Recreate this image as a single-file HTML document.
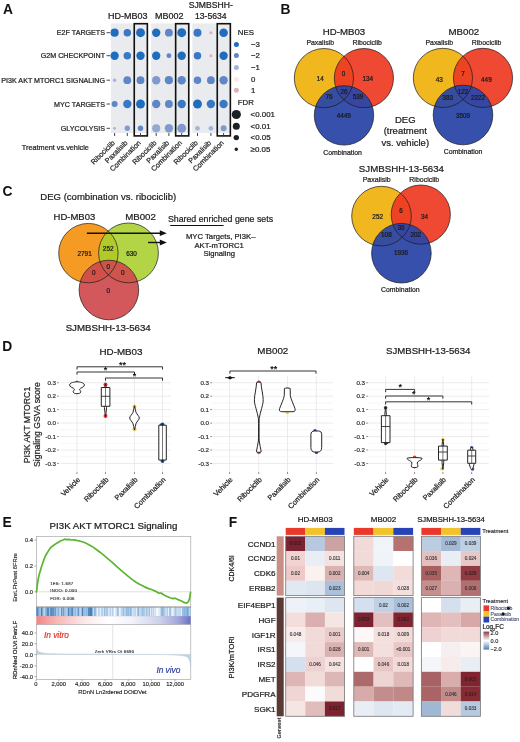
<!DOCTYPE html>
<html lang="en">
<head>
<meta charset="utf-8">
<title>Figure</title>
<style>
html,body{margin:0;padding:0;background:#fff;}
body{width:520px;height:742px;overflow:hidden;}
svg{display:block;font-family:"Liberation Sans",sans-serif;}
svg text{white-space:pre;}
</style>
</head>
<body>
<svg width="520" height="742" viewBox="0 0 520 742">
<rect x="0" y="0" width="520" height="742" fill="#ffffff"/>
<g id="panelA">
<text x="2.90" y="14.10" font-size="13.8" font-weight="bold" fill="#111">A</text>
<rect x="111.0" y="23.4" width="37.30000000000001" height="109.6" fill="#e9ebee"/>
<rect x="151.0" y="23.4" width="38.599999999999994" height="109.6" fill="#e9ebee"/>
<rect x="192.3" y="23.4" width="38.69999999999999" height="109.6" fill="#e9ebee"/>
<text x="127.80" y="18.60" font-size="9" text-anchor="middle" fill="#1a1a1a" stroke="#1a1a1a" stroke-width="0.22">HD-MB03</text>
<text x="169.30" y="18.60" font-size="9" text-anchor="middle" fill="#1a1a1a" stroke="#1a1a1a" stroke-width="0.22">MB002</text>
<text x="210.80" y="8.20" font-size="8.6" text-anchor="middle" fill="#1a1a1a" stroke="#1a1a1a" stroke-width="0.22">SJMBSHH-</text>
<text x="210.80" y="18.60" font-size="8.6" text-anchor="middle" fill="#1a1a1a" stroke="#1a1a1a" stroke-width="0.22">13-5634</text>
<text x="105.00" y="35.20" font-size="7.15" text-anchor="end" fill="#222" stroke="#222" stroke-width="0.22">E2F TARGETS</text>
<line x1="106.6" y1="32.7" x2="110" y2="32.7" stroke="#333" stroke-width="0.9"/>
<text x="105.00" y="58.20" font-size="7.15" text-anchor="end" fill="#222" stroke="#222" stroke-width="0.22">G2M CHECKPOINT</text>
<line x1="106.6" y1="55.7" x2="110" y2="55.7" stroke="#333" stroke-width="0.9"/>
<text x="105.00" y="82.70" font-size="7.15" text-anchor="end" fill="#222" stroke="#222" stroke-width="0.22">PI3K AKT MTORC1 SIGNALING</text>
<line x1="106.6" y1="80.2" x2="110" y2="80.2" stroke="#333" stroke-width="0.9"/>
<text x="105.00" y="106.50" font-size="7.15" text-anchor="end" fill="#222" stroke="#222" stroke-width="0.22">MYC TARGETS</text>
<line x1="106.6" y1="104.0" x2="110" y2="104.0" stroke="#333" stroke-width="0.9"/>
<text x="105.00" y="130.80" font-size="7.15" text-anchor="end" fill="#222" stroke="#222" stroke-width="0.22">GLYCOLYSIS</text>
<line x1="106.6" y1="128.3" x2="110" y2="128.3" stroke="#333" stroke-width="0.9"/>
<circle cx="114.6" cy="32.7" r="4.09" fill="#1f6dbd"/>
<circle cx="127.3" cy="32.7" r="3.72" fill="#3a78c4"/>
<circle cx="140.5" cy="32.7" r="4.46" fill="#1f6dbd"/>
<circle cx="156.2" cy="32.7" r="4.19" fill="#1f6dbd"/>
<circle cx="168.9" cy="32.7" r="3.91" fill="#5f86c6"/>
<circle cx="181.7" cy="32.7" r="4.46" fill="#1f6dbd"/>
<circle cx="197.5" cy="32.7" r="4.00" fill="#3a78c4"/>
<circle cx="210.9" cy="32.7" r="1.50" fill="#d9b3b8"/>
<circle cx="223.6" cy="32.7" r="4.28" fill="#1f6dbd"/>
<circle cx="114.6" cy="55.7" r="4.19" fill="#1f6dbd"/>
<circle cx="127.3" cy="55.7" r="3.72" fill="#3a78c4"/>
<circle cx="140.5" cy="55.7" r="4.19" fill="#1f6dbd"/>
<circle cx="156.2" cy="55.7" r="4.19" fill="#1f6dbd"/>
<circle cx="168.9" cy="55.7" r="2.40" fill="#5f86c6"/>
<circle cx="181.7" cy="55.7" r="4.19" fill="#1f6dbd"/>
<circle cx="197.5" cy="55.7" r="3.72" fill="#3a78c4"/>
<circle cx="210.9" cy="55.7" r="1.50" fill="#d9b3b8"/>
<circle cx="223.6" cy="55.7" r="4.19" fill="#1f6dbd"/>
<circle cx="114.6" cy="80.2" r="1.70" fill="#a3b5d8"/>
<circle cx="127.3" cy="80.2" r="3.91" fill="#5f86c6"/>
<circle cx="140.5" cy="80.2" r="3.91" fill="#5f86c6"/>
<circle cx="156.2" cy="80.2" r="4.19" fill="#7f9bcd"/>
<circle cx="168.9" cy="80.2" r="4.09" fill="#5f86c6"/>
<circle cx="181.7" cy="80.2" r="4.19" fill="#5f86c6"/>
<circle cx="197.5" cy="80.2" r="3.72" fill="#5f86c6"/>
<circle cx="210.9" cy="80.2" r="3.91" fill="#5f86c6"/>
<circle cx="223.6" cy="80.2" r="4.19" fill="#5f86c6"/>
<circle cx="114.6" cy="104.0" r="3.00" fill="#5f86c6"/>
<circle cx="127.3" cy="104.0" r="4.19" fill="#3a78c4"/>
<circle cx="140.5" cy="104.0" r="4.46" fill="#1f6dbd"/>
<circle cx="156.2" cy="104.0" r="4.19" fill="#5f86c6"/>
<circle cx="168.9" cy="104.0" r="3.91" fill="#5f86c6"/>
<circle cx="181.7" cy="104.0" r="4.19" fill="#3a78c4"/>
<circle cx="197.5" cy="104.0" r="4.46" fill="#1f6dbd"/>
<circle cx="210.9" cy="104.0" r="4.19" fill="#3a78c4"/>
<circle cx="223.6" cy="104.0" r="4.19" fill="#3a78c4"/>
<circle cx="114.6" cy="128.3" r="1.40" fill="#a3b5d8"/>
<circle cx="127.3" cy="128.3" r="2.70" fill="#7f9bcd"/>
<circle cx="140.5" cy="128.3" r="2.70" fill="#5f86c6"/>
<circle cx="156.2" cy="128.3" r="4.09" fill="#93a9d2"/>
<circle cx="168.9" cy="128.3" r="4.19" fill="#7f9bcd"/>
<circle cx="181.7" cy="128.3" r="4.46" fill="#7f9bcd"/>
<circle cx="197.5" cy="128.3" r="2.40" fill="#a3b5d8"/>
<circle cx="210.9" cy="128.3" r="2.40" fill="#a3b5d8"/>
<circle cx="223.6" cy="128.3" r="3.00" fill="#7f9bcd"/>
<rect x="134.25" y="23.7" width="13.1" height="112.2" fill="none" stroke="#111" stroke-width="1.6"/>
<rect x="175.65" y="23.7" width="13.1" height="112.2" fill="none" stroke="#111" stroke-width="1.6"/>
<rect x="217.25" y="23.7" width="13.1" height="112.2" fill="none" stroke="#111" stroke-width="1.6"/>
<line x1="114.6" y1="133" x2="114.6" y2="136" stroke="#333" stroke-width="0.9"/>
<text x="115.40" y="143.30" font-size="7.2" text-anchor="end" fill="#222" transform="rotate(-45 115.40 143.30)" stroke="#222" stroke-width="0.22">Ribociclib</text>
<line x1="127.3" y1="133" x2="127.3" y2="136" stroke="#333" stroke-width="0.9"/>
<text x="128.10" y="143.30" font-size="7.2" text-anchor="end" fill="#222" transform="rotate(-45 128.10 143.30)" stroke="#222" stroke-width="0.22">Paxalisib</text>
<line x1="140.5" y1="133" x2="140.5" y2="136" stroke="#333" stroke-width="0.9"/>
<text x="141.30" y="143.30" font-size="7.2" text-anchor="end" fill="#222" transform="rotate(-45 141.30 143.30)" stroke="#222" stroke-width="0.22">Combination</text>
<line x1="156.2" y1="133" x2="156.2" y2="136" stroke="#333" stroke-width="0.9"/>
<text x="157.00" y="143.30" font-size="7.2" text-anchor="end" fill="#222" transform="rotate(-45 157.00 143.30)" stroke="#222" stroke-width="0.22">Ribociclib</text>
<line x1="168.9" y1="133" x2="168.9" y2="136" stroke="#333" stroke-width="0.9"/>
<text x="169.70" y="143.30" font-size="7.2" text-anchor="end" fill="#222" transform="rotate(-45 169.70 143.30)" stroke="#222" stroke-width="0.22">Paxalisib</text>
<line x1="181.7" y1="133" x2="181.7" y2="136" stroke="#333" stroke-width="0.9"/>
<text x="182.50" y="143.30" font-size="7.2" text-anchor="end" fill="#222" transform="rotate(-45 182.50 143.30)" stroke="#222" stroke-width="0.22">Combination</text>
<line x1="197.5" y1="133" x2="197.5" y2="136" stroke="#333" stroke-width="0.9"/>
<text x="198.30" y="143.30" font-size="7.2" text-anchor="end" fill="#222" transform="rotate(-45 198.30 143.30)" stroke="#222" stroke-width="0.22">Ribociclib</text>
<line x1="210.9" y1="133" x2="210.9" y2="136" stroke="#333" stroke-width="0.9"/>
<text x="211.70" y="143.30" font-size="7.2" text-anchor="end" fill="#222" transform="rotate(-45 211.70 143.30)" stroke="#222" stroke-width="0.22">Paxalisib</text>
<line x1="223.6" y1="133" x2="223.6" y2="136" stroke="#333" stroke-width="0.9"/>
<text x="224.40" y="143.30" font-size="7.2" text-anchor="end" fill="#222" transform="rotate(-45 224.40 143.30)" stroke="#222" stroke-width="0.22">Combination</text>
<text x="21.80" y="150.30" font-size="7.3" fill="#222" stroke="#222" stroke-width="0.22">Treatment vs.vehicle</text>
<text x="237.80" y="35.40" font-size="7.8" fill="#222" stroke="#222" stroke-width="0.22">NES</text>
<circle cx="236.4" cy="44.5" r="2.5" fill="#1f6dbd"/>
<text x="251.00" y="47.30" font-size="7.8" fill="#222" stroke="#222" stroke-width="0.22">−3</text>
<circle cx="236.4" cy="55.6" r="2.5" fill="#5f86c6"/>
<text x="251.00" y="58.40" font-size="7.8" fill="#222" stroke="#222" stroke-width="0.22">−2</text>
<circle cx="236.4" cy="67.4" r="2.5" fill="#a3b5d8"/>
<text x="251.00" y="70.20" font-size="7.8" fill="#222" stroke="#222" stroke-width="0.22">−1</text>
<circle cx="236.4" cy="79.2" r="2.5" fill="#f6e9ec"/>
<text x="251.00" y="82.00" font-size="7.8" fill="#222" stroke="#222" stroke-width="0.22">0</text>
<circle cx="236.4" cy="90.2" r="2.5" fill="#d9b3b8"/>
<text x="251.00" y="93.00" font-size="7.8" fill="#222" stroke="#222" stroke-width="0.22">1</text>
<text x="237.80" y="105.40" font-size="7.8" fill="#222" stroke="#222" stroke-width="0.22">FDR</text>
<circle cx="236.3" cy="114.5" r="4.6" fill="#1c2126"/>
<text x="250.60" y="117.30" font-size="7.9" fill="#222" stroke="#222" stroke-width="0.22">&lt;0.001</text>
<circle cx="236.3" cy="126.3" r="3.5" fill="#1c2126"/>
<text x="250.60" y="129.10" font-size="7.9" fill="#222" stroke="#222" stroke-width="0.22">&lt;0.01</text>
<circle cx="236.3" cy="137.6" r="2.7" fill="#1c2126"/>
<text x="250.60" y="140.40" font-size="7.9" fill="#222" stroke="#222" stroke-width="0.22">&lt;0.05</text>
<circle cx="236.3" cy="149.3" r="1.7" fill="#1c2126"/>
<text x="250.60" y="152.10" font-size="7.9" fill="#222" stroke="#222" stroke-width="0.22">≥0.05</text>
</g>
<g id="panelB">
<text x="280.40" y="14.10" font-size="13.8" font-weight="bold" fill="#111">B</text>
<text x="344.00" y="35.00" font-size="9.65" text-anchor="middle" fill="#1a1a1a" stroke="#1a1a1a" stroke-width="0.22">HD-MB03</text>
<text x="320.20" y="44.50" font-size="6.9" text-anchor="middle" fill="#222" stroke="#222" stroke-width="0.22">Paxalisib</text>
<text x="367.20" y="44.50" font-size="6.9" text-anchor="middle" fill="#222" stroke="#222" stroke-width="0.22">Ribociclib</text>
<circle cx="323.9" cy="78.1" r="29.6" fill="#f0b71f"/>
<circle cx="363.9" cy="78.1" r="29.6" fill="#ee3a24" fill-opacity="0.93"/>
<circle cx="344.0" cy="115.4" r="29.7" fill="#2b47a8" fill-opacity="0.95"/>
<circle cx="323.9" cy="78.1" r="29.6" fill="none" stroke="#1a1a1a" stroke-width="0.7"/>
<circle cx="363.9" cy="78.1" r="29.6" fill="none" stroke="#1a1a1a" stroke-width="0.7"/>
<circle cx="344.0" cy="115.4" r="29.7" fill="none" stroke="#1a1a1a" stroke-width="0.7"/>
<text x="320.20" y="81.00" font-size="6.4" text-anchor="middle" fill="#1a1a1a" stroke="#1a1a1a" stroke-width="0.22">14</text>
<text x="343.60" y="75.80" font-size="6.4" text-anchor="middle" fill="#1a1a1a" stroke="#1a1a1a" stroke-width="0.22">0</text>
<text x="367.80" y="81.00" font-size="6.4" text-anchor="middle" fill="#1a1a1a" stroke="#1a1a1a" stroke-width="0.22">134</text>
<text x="329.00" y="99.20" font-size="6.4" text-anchor="middle" fill="#1a1a1a" stroke="#1a1a1a" stroke-width="0.22">76</text>
<text x="344.00" y="93.50" font-size="6.4" text-anchor="middle" fill="#1a1a1a" stroke="#1a1a1a" stroke-width="0.22">26</text>
<text x="358.00" y="99.20" font-size="6.4" text-anchor="middle" fill="#1a1a1a" stroke="#1a1a1a" stroke-width="0.22">539</text>
<text x="343.80" y="117.50" font-size="6.4" text-anchor="middle" fill="#1a1a1a" stroke="#1a1a1a" stroke-width="0.22">4449</text>
<text x="342.50" y="154.50" font-size="6.9" text-anchor="middle" fill="#222" stroke="#222" stroke-width="0.22">Combination</text>
<text x="405.30" y="123.20" font-size="9.5" text-anchor="middle" fill="#1a1a1a" stroke="#1a1a1a" stroke-width="0.22">DEG</text>
<text x="405.30" y="134.40" font-size="9.5" text-anchor="middle" fill="#1a1a1a" stroke="#1a1a1a" stroke-width="0.22">(treatment</text>
<text x="405.30" y="145.80" font-size="9.5" text-anchor="middle" fill="#1a1a1a" stroke="#1a1a1a" stroke-width="0.22">vs. vehicle)</text>
<text x="463.90" y="35.00" font-size="9.7" text-anchor="middle" fill="#1a1a1a" stroke="#1a1a1a" stroke-width="0.22">MB002</text>
<text x="439.30" y="44.50" font-size="6.9" text-anchor="middle" fill="#222" stroke="#222" stroke-width="0.22">Paxalisib</text>
<text x="486.60" y="44.50" font-size="6.9" text-anchor="middle" fill="#222" stroke="#222" stroke-width="0.22">Ribociclib</text>
<circle cx="442.9" cy="77.9" r="29.6" fill="#f0b71f"/>
<circle cx="483.0" cy="77.9" r="29.6" fill="#ee3a24" fill-opacity="0.93"/>
<circle cx="463.0" cy="115.0" r="29.8" fill="#2b47a8" fill-opacity="0.95"/>
<circle cx="442.9" cy="77.9" r="29.6" fill="none" stroke="#1a1a1a" stroke-width="0.7"/>
<circle cx="483.0" cy="77.9" r="29.6" fill="none" stroke="#1a1a1a" stroke-width="0.7"/>
<circle cx="463.0" cy="115.0" r="29.8" fill="none" stroke="#1a1a1a" stroke-width="0.7"/>
<text x="439.30" y="81.50" font-size="6.4" text-anchor="middle" fill="#1a1a1a" stroke="#1a1a1a" stroke-width="0.22">43</text>
<text x="463.00" y="75.90" font-size="6.4" text-anchor="middle" fill="#1a1a1a" stroke="#1a1a1a" stroke-width="0.22">7</text>
<text x="486.40" y="81.50" font-size="6.4" text-anchor="middle" fill="#1a1a1a" stroke="#1a1a1a" stroke-width="0.22">449</text>
<text x="447.70" y="99.80" font-size="6.4" text-anchor="middle" fill="#1a1a1a" stroke="#1a1a1a" stroke-width="0.22">383</text>
<text x="463.00" y="93.60" font-size="6.4" text-anchor="middle" fill="#1a1a1a" stroke="#1a1a1a" stroke-width="0.22">122</text>
<text x="478.00" y="99.80" font-size="6.4" text-anchor="middle" fill="#1a1a1a" stroke="#1a1a1a" stroke-width="0.22">2222</text>
<text x="463.00" y="117.50" font-size="6.4" text-anchor="middle" fill="#1a1a1a" stroke="#1a1a1a" stroke-width="0.22">3509</text>
<text x="463.00" y="154.10" font-size="6.9" text-anchor="middle" fill="#222" stroke="#222" stroke-width="0.22">Combination</text>
<text x="401.40" y="172.40" font-size="9.7" text-anchor="middle" fill="#1a1a1a" stroke="#1a1a1a" stroke-width="0.22">SJMBSHH-13-5634</text>
<text x="376.70" y="182.00" font-size="7.0" text-anchor="middle" fill="#222" stroke="#222" stroke-width="0.22">Paxalisib</text>
<text x="424.30" y="182.00" font-size="7.0" text-anchor="middle" fill="#222" stroke="#222" stroke-width="0.22">Ribociclib</text>
<circle cx="381.5" cy="216.1" r="29.8" fill="#f0b71f"/>
<circle cx="420.8" cy="214.6" r="29.6" fill="#ee3a24" fill-opacity="0.93"/>
<circle cx="401.4" cy="253.2" r="29.8" fill="#2b47a8" fill-opacity="0.95"/>
<circle cx="381.5" cy="216.1" r="29.8" fill="none" stroke="#1a1a1a" stroke-width="0.7"/>
<circle cx="420.8" cy="214.6" r="29.6" fill="none" stroke="#1a1a1a" stroke-width="0.7"/>
<circle cx="401.4" cy="253.2" r="29.8" fill="none" stroke="#1a1a1a" stroke-width="0.7"/>
<text x="377.70" y="218.70" font-size="6.4" text-anchor="middle" fill="#1a1a1a" stroke="#1a1a1a" stroke-width="0.22">252</text>
<text x="401.00" y="213.30" font-size="6.4" text-anchor="middle" fill="#1a1a1a" stroke="#1a1a1a" stroke-width="0.22">6</text>
<text x="424.60" y="218.70" font-size="6.4" text-anchor="middle" fill="#1a1a1a" stroke="#1a1a1a" stroke-width="0.22">34</text>
<text x="386.40" y="237.00" font-size="6.4" text-anchor="middle" fill="#1a1a1a" stroke="#1a1a1a" stroke-width="0.22">108</text>
<text x="401.00" y="230.40" font-size="6.4" text-anchor="middle" fill="#1a1a1a" stroke="#1a1a1a" stroke-width="0.22">36</text>
<text x="415.80" y="237.00" font-size="6.4" text-anchor="middle" fill="#1a1a1a" stroke="#1a1a1a" stroke-width="0.22">202</text>
<text x="401.00" y="254.70" font-size="6.4" text-anchor="middle" fill="#1a1a1a" stroke="#1a1a1a" stroke-width="0.22">1936</text>
<text x="400.30" y="292.40" font-size="6.9" text-anchor="middle" fill="#222" stroke="#222" stroke-width="0.22">Combination</text>
</g>
<g id="panelC">
<text x="2.50" y="195.90" font-size="13.8" font-weight="bold" fill="#111">C</text>
<text x="40.30" y="200.40" font-size="9.55" fill="#222" stroke="#222" stroke-width="0.22">DEG (combination vs. ribociclib)</text>
<text x="74.40" y="219.60" font-size="9.5" text-anchor="middle" fill="#1a1a1a" stroke="#1a1a1a" stroke-width="0.22">HD-MB03</text>
<text x="140.50" y="219.60" font-size="9.7" text-anchor="middle" fill="#1a1a1a" stroke="#1a1a1a" stroke-width="0.22">MB002</text>
<circle cx="88.4" cy="253.1" r="29.7" fill="#f59a23"/>
<circle cx="128.5" cy="252.9" r="29.9" fill="#a9cf2b" fill-opacity="0.88"/>
<circle cx="108.9" cy="290.0" r="29.8" fill="#cf4a4d" fill-opacity="0.92"/>
<circle cx="88.4" cy="253.1" r="29.7" fill="none" stroke="#1a1a1a" stroke-width="0.7"/>
<circle cx="128.5" cy="252.9" r="29.9" fill="none" stroke="#1a1a1a" stroke-width="0.7"/>
<circle cx="108.9" cy="290.0" r="29.8" fill="none" stroke="#1a1a1a" stroke-width="0.7"/>
<text x="84.60" y="256.20" font-size="6.4" text-anchor="middle" fill="#1a1a1a" stroke="#1a1a1a" stroke-width="0.22">2791</text>
<text x="108.20" y="251.20" font-size="6.4" text-anchor="middle" fill="#1a1a1a" stroke="#1a1a1a" stroke-width="0.22">252</text>
<text x="131.50" y="256.20" font-size="6.4" text-anchor="middle" fill="#1a1a1a" stroke="#1a1a1a" stroke-width="0.22">630</text>
<text x="93.90" y="274.90" font-size="6.4" text-anchor="middle" fill="#1a1a1a" stroke="#1a1a1a" stroke-width="0.22">0</text>
<text x="108.20" y="269.20" font-size="6.4" text-anchor="middle" fill="#1a1a1a" stroke="#1a1a1a" stroke-width="0.22">0</text>
<text x="122.70" y="274.90" font-size="6.4" text-anchor="middle" fill="#1a1a1a" stroke="#1a1a1a" stroke-width="0.22">0</text>
<text x="108.20" y="293.20" font-size="6.4" text-anchor="middle" fill="#1a1a1a" stroke="#1a1a1a" stroke-width="0.22">0</text>
<text x="108.20" y="331.20" font-size="9.7" text-anchor="middle" fill="#1a1a1a" stroke="#1a1a1a" stroke-width="0.22">SJMBSHH-13-5634</text>
<line x1="86.9" y1="233.2" x2="161.5" y2="233.2" stroke="#111" stroke-width="1.4"/>
<path d="M166.8 233.2 L159.8 230.3 L159.8 236.1 Z" fill="#111"/>
<line x1="148.1" y1="242.5" x2="161.5" y2="242.5" stroke="#111" stroke-width="1.4"/>
<path d="M166.8 242.5 L159.8 239.6 L159.8 245.4 Z" fill="#111"/>
<text x="167.90" y="221.90" font-size="8.8" fill="#222" stroke="#222" stroke-width="0.22">Shared enriched gene sets</text>
<line x1="170.2" y1="225.5" x2="223.6" y2="225.5" stroke="#111" stroke-width="1.2"/>
<text x="220.70" y="239.30" font-size="7.7" text-anchor="middle" fill="#222" stroke="#222" stroke-width="0.22">MYC Targets, PI3K–</text>
<text x="219.20" y="247.50" font-size="7.7" text-anchor="middle" fill="#222" stroke="#222" stroke-width="0.22">AKT-mTORC1</text>
<text x="219.20" y="256.20" font-size="7.7" text-anchor="middle" fill="#222" stroke="#222" stroke-width="0.22">Signaling</text>
</g>
<g id="panelD">
<text x="2.20" y="350.60" font-size="13.8" font-weight="bold" fill="#111">D</text>
<text x="30.30" y="425.00" font-size="8.7" text-anchor="middle" fill="#222" transform="rotate(-90 30.30 425.00)" stroke="#222" stroke-width="0.22">PI3K AKT MTORC1</text>
<text x="39.50" y="424.50" font-size="8.7" text-anchor="middle" fill="#222" transform="rotate(-90 39.50 424.50)" stroke="#222" stroke-width="0.22">Signaling GSVA score</text>
<text x="121.00" y="355.40" font-size="9.8" text-anchor="middle" fill="#1a1a1a" stroke="#1a1a1a" stroke-width="0.22">HD-MB03</text>
<line x1="60.0" y1="463.48" x2="171.0" y2="463.48" stroke="#e4e4e4" stroke-width="0.7"/>
<line x1="60.0" y1="456.75" x2="171.0" y2="456.75" stroke="#efefef" stroke-width="0.5"/>
<line x1="60.0" y1="450.02" x2="171.0" y2="450.02" stroke="#e4e4e4" stroke-width="0.7"/>
<line x1="60.0" y1="443.29" x2="171.0" y2="443.29" stroke="#efefef" stroke-width="0.5"/>
<line x1="60.0" y1="436.56" x2="171.0" y2="436.56" stroke="#e4e4e4" stroke-width="0.7"/>
<line x1="60.0" y1="429.83" x2="171.0" y2="429.83" stroke="#efefef" stroke-width="0.5"/>
<line x1="60.0" y1="423.10" x2="171.0" y2="423.10" stroke="#e4e4e4" stroke-width="0.7"/>
<line x1="60.0" y1="416.37" x2="171.0" y2="416.37" stroke="#efefef" stroke-width="0.5"/>
<line x1="60.0" y1="409.64" x2="171.0" y2="409.64" stroke="#e4e4e4" stroke-width="0.7"/>
<line x1="60.0" y1="402.91" x2="171.0" y2="402.91" stroke="#efefef" stroke-width="0.5"/>
<line x1="60.0" y1="396.18" x2="171.0" y2="396.18" stroke="#e4e4e4" stroke-width="0.7"/>
<line x1="60.0" y1="389.45" x2="171.0" y2="389.45" stroke="#efefef" stroke-width="0.5"/>
<line x1="60.0" y1="382.72" x2="171.0" y2="382.72" stroke="#e4e4e4" stroke-width="0.7"/>
<line x1="77.0" y1="376" x2="77.0" y2="472" stroke="#e4e4e4" stroke-width="0.7"/>
<line x1="77.0" y1="472" x2="77.0" y2="474" stroke="#444" stroke-width="0.6"/>
<line x1="105.5" y1="376" x2="105.5" y2="472" stroke="#e4e4e4" stroke-width="0.7"/>
<line x1="105.5" y1="472" x2="105.5" y2="474" stroke="#444" stroke-width="0.6"/>
<line x1="134.5" y1="376" x2="134.5" y2="472" stroke="#e4e4e4" stroke-width="0.7"/>
<line x1="134.5" y1="472" x2="134.5" y2="474" stroke="#444" stroke-width="0.6"/>
<line x1="162.5" y1="376" x2="162.5" y2="472" stroke="#e4e4e4" stroke-width="0.7"/>
<line x1="162.5" y1="472" x2="162.5" y2="474" stroke="#444" stroke-width="0.6"/>
<text x="56.00" y="384.92" font-size="6.2" text-anchor="end" fill="#333" stroke="#333" stroke-width="0.22">0.3</text>
<line x1="57.2" y1="382.72" x2="59.0" y2="382.72" stroke="#444" stroke-width="0.6"/>
<text x="56.00" y="398.38" font-size="6.2" text-anchor="end" fill="#333" stroke="#333" stroke-width="0.22">0.2</text>
<line x1="57.2" y1="396.18" x2="59.0" y2="396.18" stroke="#444" stroke-width="0.6"/>
<text x="56.00" y="411.84" font-size="6.2" text-anchor="end" fill="#333" stroke="#333" stroke-width="0.22">0.1</text>
<line x1="57.2" y1="409.64" x2="59.0" y2="409.64" stroke="#444" stroke-width="0.6"/>
<text x="56.00" y="425.30" font-size="6.2" text-anchor="end" fill="#333" stroke="#333" stroke-width="0.22">0.0</text>
<line x1="57.2" y1="423.10" x2="59.0" y2="423.10" stroke="#444" stroke-width="0.6"/>
<text x="56.00" y="438.76" font-size="6.2" text-anchor="end" fill="#333" stroke="#333" stroke-width="0.22">-0.1</text>
<line x1="57.2" y1="436.56" x2="59.0" y2="436.56" stroke="#444" stroke-width="0.6"/>
<text x="56.00" y="452.22" font-size="6.2" text-anchor="end" fill="#333" stroke="#333" stroke-width="0.22">-0.2</text>
<line x1="57.2" y1="450.02" x2="59.0" y2="450.02" stroke="#444" stroke-width="0.6"/>
<text x="56.00" y="465.68" font-size="6.2" text-anchor="end" fill="#333" stroke="#333" stroke-width="0.22">-0.3</text>
<line x1="57.2" y1="463.48" x2="59.0" y2="463.48" stroke="#444" stroke-width="0.6"/>
<text x="80.60" y="480.20" font-size="7.3" text-anchor="end" fill="#222" transform="rotate(-45 80.60 480.20)" stroke="#222" stroke-width="0.22">Vehicle</text>
<text x="109.10" y="480.20" font-size="7.3" text-anchor="end" fill="#222" transform="rotate(-45 109.10 480.20)" stroke="#222" stroke-width="0.22">Ribociclib</text>
<text x="138.10" y="480.20" font-size="7.3" text-anchor="end" fill="#222" transform="rotate(-45 138.10 480.20)" stroke="#222" stroke-width="0.22">Paxalisib</text>
<text x="166.10" y="480.20" font-size="7.3" text-anchor="end" fill="#222" transform="rotate(-45 166.10 480.20)" stroke="#222" stroke-width="0.22">Combination</text>
<path d="M77.0 369.5 V366.8 H162.5 V369.5" fill="none" stroke="#2a2a2a" stroke-width="0.95"/>
<text x="122.50" y="367.50" font-size="9.0" text-anchor="middle" font-weight="bold" fill="#111">**</text>
<path d="M77.0 374.7 V372.0 H134.5 V374.7" fill="none" stroke="#2a2a2a" stroke-width="0.95"/>
<text x="105.50" y="372.70" font-size="9.0" text-anchor="middle" font-weight="bold" fill="#111">*</text>
<path d="M105.5 380.7 V378.0 H162.5 V380.7" fill="none" stroke="#2a2a2a" stroke-width="0.95"/>
<text x="134.50" y="378.70" font-size="9.0" text-anchor="middle" font-weight="bold" fill="#111">*</text>
<circle cx="77.0" cy="382.0" r="1.2" fill="#3a3a3a"/>
<circle cx="77.0" cy="392.8" r="1.2" fill="#3a3a3a"/>
<path d="M77 381.8 C79.5 382.0 84.2 382.4 84.4 385.0 C84.5 387.4 80.2 387.6 79.6 389.2 C79.3 390.2 80.9 390.6 80.8 391.8 C80.6 393.4 78.6 393.7 77 393.7 C75.4 393.7 73.4 393.4 73.2 391.8 C73.1 390.6 74.7 390.2 74.4 389.2 C73.8 387.6 69.5 387.4 69.6 385.0 C69.8 382.4 74.5 382.0 77 381.8 Z" fill="#ffffff" stroke="#1a1a1a" stroke-width="0.95" stroke-linejoin="round"/>
<circle cx="105.5" cy="384.6" r="2.0" fill="#e3342c"/>
<circle cx="105.5" cy="416.0" r="2.0" fill="#e3342c"/>
<path d="M105.5 383.8 C106.6 388 107.0 394 107.0 398 C107.0 404 106.4 411 105.5 416.6 C104.6 411 104.0 404 104.0 398 C104.0 394 104.4 388 105.5 383.8 Z" fill="#ffffff" stroke="#1a1a1a" stroke-width="0.95" stroke-linejoin="round"/>
<rect x="101.3" y="387.5" width="8.6" height="18.8" fill="#ffffff" stroke="#1a1a1a" stroke-width="0.95" stroke-linejoin="round"/>
<line x1="101.3" y1="396.3" x2="109.9" y2="396.3" stroke="#1a1a1a" stroke-width="0.8"/>
<line x1="105.5" y1="387.5" x2="105.5" y2="406.3" stroke="#1a1a1a" stroke-width="0.6"/>
<circle cx="134.5" cy="406.6" r="2.0" fill="#f2cf2e"/>
<circle cx="134.5" cy="429.2" r="2.0" fill="#f2cf2e"/>
<path d="M134.5 405.8 C135.3 408 135.2 410.5 136 412.3 C137 414.5 139.3 416.4 139.3 418 C139.3 419.6 137 421.4 136 423.6 C135.2 425.4 135.3 427.8 134.5 430 C133.7 427.8 133.8 425.4 133 423.6 C132 421.4 129.7 419.6 129.7 418 C129.7 416.4 132 414.5 133 412.3 C133.8 410.5 133.7 408 134.5 405.8 Z" fill="#ffffff" stroke="#1a1a1a" stroke-width="0.95" stroke-linejoin="round"/>
<circle cx="162.5" cy="424.4" r="2.0" fill="#2c4fa3"/>
<circle cx="160.9" cy="424.8" r="1.3" fill="#2c4fa3"/>
<circle cx="162.5" cy="461.0" r="2.0" fill="#2c4fa3"/>
<path d="M162.5 423.6 C163.6 430 163.8 452 162.5 461.6 C161.2 452 161.4 430 162.5 423.6 Z" fill="#ffffff" stroke="#1a1a1a" stroke-width="0.95" stroke-linejoin="round"/>
<rect x="158.8" y="425.2" width="7.5" height="34.8" fill="#ffffff" stroke="#1a1a1a" stroke-width="0.95" stroke-linejoin="round"/>
<line x1="162.5" y1="425.2" x2="162.5" y2="460" stroke="#1a1a1a" stroke-width="0.6"/>
<text x="272.80" y="354.20" font-size="9.8" text-anchor="middle" fill="#1a1a1a" stroke="#1a1a1a" stroke-width="0.22">MB002</text>
<line x1="212.0" y1="463.48" x2="333.0" y2="463.48" stroke="#e4e4e4" stroke-width="0.7"/>
<line x1="212.0" y1="456.75" x2="333.0" y2="456.75" stroke="#efefef" stroke-width="0.5"/>
<line x1="212.0" y1="450.02" x2="333.0" y2="450.02" stroke="#e4e4e4" stroke-width="0.7"/>
<line x1="212.0" y1="443.29" x2="333.0" y2="443.29" stroke="#efefef" stroke-width="0.5"/>
<line x1="212.0" y1="436.56" x2="333.0" y2="436.56" stroke="#e4e4e4" stroke-width="0.7"/>
<line x1="212.0" y1="429.83" x2="333.0" y2="429.83" stroke="#efefef" stroke-width="0.5"/>
<line x1="212.0" y1="423.10" x2="333.0" y2="423.10" stroke="#e4e4e4" stroke-width="0.7"/>
<line x1="212.0" y1="416.37" x2="333.0" y2="416.37" stroke="#efefef" stroke-width="0.5"/>
<line x1="212.0" y1="409.64" x2="333.0" y2="409.64" stroke="#e4e4e4" stroke-width="0.7"/>
<line x1="212.0" y1="402.91" x2="333.0" y2="402.91" stroke="#efefef" stroke-width="0.5"/>
<line x1="212.0" y1="396.18" x2="333.0" y2="396.18" stroke="#e4e4e4" stroke-width="0.7"/>
<line x1="212.0" y1="389.45" x2="333.0" y2="389.45" stroke="#efefef" stroke-width="0.5"/>
<line x1="212.0" y1="382.72" x2="333.0" y2="382.72" stroke="#e4e4e4" stroke-width="0.7"/>
<line x1="229.6" y1="376" x2="229.6" y2="472" stroke="#e4e4e4" stroke-width="0.7"/>
<line x1="229.6" y1="472" x2="229.6" y2="474" stroke="#444" stroke-width="0.6"/>
<line x1="258.7" y1="376" x2="258.7" y2="472" stroke="#e4e4e4" stroke-width="0.7"/>
<line x1="258.7" y1="472" x2="258.7" y2="474" stroke="#444" stroke-width="0.6"/>
<line x1="287.5" y1="376" x2="287.5" y2="472" stroke="#e4e4e4" stroke-width="0.7"/>
<line x1="287.5" y1="472" x2="287.5" y2="474" stroke="#444" stroke-width="0.6"/>
<line x1="316.3" y1="376" x2="316.3" y2="472" stroke="#e4e4e4" stroke-width="0.7"/>
<line x1="316.3" y1="472" x2="316.3" y2="474" stroke="#444" stroke-width="0.6"/>
<text x="209.00" y="384.92" font-size="6.2" text-anchor="end" fill="#333" stroke="#333" stroke-width="0.22">0.3</text>
<line x1="210.2" y1="382.72" x2="212.0" y2="382.72" stroke="#444" stroke-width="0.6"/>
<text x="209.00" y="398.38" font-size="6.2" text-anchor="end" fill="#333" stroke="#333" stroke-width="0.22">0.2</text>
<line x1="210.2" y1="396.18" x2="212.0" y2="396.18" stroke="#444" stroke-width="0.6"/>
<text x="209.00" y="411.84" font-size="6.2" text-anchor="end" fill="#333" stroke="#333" stroke-width="0.22">0.1</text>
<line x1="210.2" y1="409.64" x2="212.0" y2="409.64" stroke="#444" stroke-width="0.6"/>
<text x="209.00" y="425.30" font-size="6.2" text-anchor="end" fill="#333" stroke="#333" stroke-width="0.22">0.0</text>
<line x1="210.2" y1="423.10" x2="212.0" y2="423.10" stroke="#444" stroke-width="0.6"/>
<text x="209.00" y="438.76" font-size="6.2" text-anchor="end" fill="#333" stroke="#333" stroke-width="0.22">-0.1</text>
<line x1="210.2" y1="436.56" x2="212.0" y2="436.56" stroke="#444" stroke-width="0.6"/>
<text x="209.00" y="452.22" font-size="6.2" text-anchor="end" fill="#333" stroke="#333" stroke-width="0.22">-0.2</text>
<line x1="210.2" y1="450.02" x2="212.0" y2="450.02" stroke="#444" stroke-width="0.6"/>
<text x="209.00" y="465.68" font-size="6.2" text-anchor="end" fill="#333" stroke="#333" stroke-width="0.22">-0.3</text>
<line x1="210.2" y1="463.48" x2="212.0" y2="463.48" stroke="#444" stroke-width="0.6"/>
<text x="233.20" y="480.20" font-size="7.3" text-anchor="end" fill="#222" transform="rotate(-45 233.20 480.20)" stroke="#222" stroke-width="0.22">Vehicle</text>
<text x="262.30" y="480.20" font-size="7.3" text-anchor="end" fill="#222" transform="rotate(-45 262.30 480.20)" stroke="#222" stroke-width="0.22">Ribociclib</text>
<text x="291.10" y="480.20" font-size="7.3" text-anchor="end" fill="#222" transform="rotate(-45 291.10 480.20)" stroke="#222" stroke-width="0.22">Paxalisib</text>
<text x="319.90" y="480.20" font-size="7.3" text-anchor="end" fill="#222" transform="rotate(-45 319.90 480.20)" stroke="#222" stroke-width="0.22">Combination</text>
<path d="M229.9 373.7 V371.0 H316.0 V373.7" fill="none" stroke="#2a2a2a" stroke-width="0.95"/>
<text x="273.80" y="371.70" font-size="9.0" text-anchor="middle" font-weight="bold" fill="#111">**</text>
<line x1="225.2" y1="377.7" x2="234.8" y2="377.7" stroke="#111" stroke-width="1.0"/>
<path d="M227.2 377.7 L230 375.9 L232.8 377.7 L230 379.5 Z" fill="#111"/>
<circle cx="258.8" cy="382.6" r="2.0" fill="#e3342c"/>
<circle cx="258.8" cy="452.0" r="2.0" fill="#e3342c"/>
<path d="M256.6 382.6 C257.4 382.0 260.2 382.0 261.0 382.6 C261.2 388 263.0 394 263.2 399.6 C263.3 403 262.2 406 261.6 408.5 C260.8 412 259.6 415 259.2 418.5 C259.0 424 259.0 436 259.2 441 C259.5 445 261.0 448.4 261.2 451.8 C260.4 452.5 257.2 452.5 256.4 451.8 C256.6 448.4 258.1 445 258.4 441 C258.6 436 258.6 424 258.4 418.5 C258.0 415 256.8 412 256.0 408.5 C255.4 406 254.3 403 254.4 399.6 C254.6 394 256.4 388 256.6 382.6 Z" fill="#ffffff" stroke="#1a1a1a" stroke-width="0.95" stroke-linejoin="round"/>
<circle cx="287.3" cy="388.4" r="1.7" fill="#f2cf2e"/>
<circle cx="287.3" cy="412.4" r="1.7" fill="#f2cf2e"/>
<path d="M284.4 388.5 C285.2 387.9 289.4 387.9 290.2 388.5 L290.3 395.6 C290.6 398.5 293.8 405 295.0 408.6 C295.6 410.6 294.8 411.6 293 411.7 L281.6 411.7 C279.8 411.6 279.0 410.6 279.6 408.6 C280.8 405 284.0 398.5 284.3 395.6 Z" fill="#ffffff" stroke="#1a1a1a" stroke-width="0.95" stroke-linejoin="round"/>
<circle cx="315.0" cy="430.8" r="1.7" fill="#2c4fa3"/>
<circle cx="316.4" cy="452.4" r="1.7" fill="#2c4fa3"/>
<path d="M314.2 431.0 L318.6 431.0 C320.6 431.0 321.7 432.4 321.7 434.4 L321.7 447.6 C321.7 450.4 320.2 452.0 318.0 452.0 L314.6 452.0 C312.4 452.0 310.9 450.4 310.9 447.6 L310.9 434.4 C310.9 432.4 312.2 431.0 314.2 431.0 Z" fill="#ffffff" stroke="#1a1a1a" stroke-width="0.95" stroke-linejoin="round"/>
<text x="428.20" y="354.20" font-size="9.6" text-anchor="middle" fill="#1a1a1a" stroke="#1a1a1a" stroke-width="0.22">SJMBSHH-13-5634</text>
<line x1="368.0" y1="463.48" x2="489.0" y2="463.48" stroke="#e4e4e4" stroke-width="0.7"/>
<line x1="368.0" y1="456.75" x2="489.0" y2="456.75" stroke="#efefef" stroke-width="0.5"/>
<line x1="368.0" y1="450.02" x2="489.0" y2="450.02" stroke="#e4e4e4" stroke-width="0.7"/>
<line x1="368.0" y1="443.29" x2="489.0" y2="443.29" stroke="#efefef" stroke-width="0.5"/>
<line x1="368.0" y1="436.56" x2="489.0" y2="436.56" stroke="#e4e4e4" stroke-width="0.7"/>
<line x1="368.0" y1="429.83" x2="489.0" y2="429.83" stroke="#efefef" stroke-width="0.5"/>
<line x1="368.0" y1="423.10" x2="489.0" y2="423.10" stroke="#e4e4e4" stroke-width="0.7"/>
<line x1="368.0" y1="416.37" x2="489.0" y2="416.37" stroke="#efefef" stroke-width="0.5"/>
<line x1="368.0" y1="409.64" x2="489.0" y2="409.64" stroke="#e4e4e4" stroke-width="0.7"/>
<line x1="368.0" y1="402.91" x2="489.0" y2="402.91" stroke="#efefef" stroke-width="0.5"/>
<line x1="368.0" y1="396.18" x2="489.0" y2="396.18" stroke="#e4e4e4" stroke-width="0.7"/>
<line x1="368.0" y1="389.45" x2="489.0" y2="389.45" stroke="#efefef" stroke-width="0.5"/>
<line x1="368.0" y1="382.72" x2="489.0" y2="382.72" stroke="#e4e4e4" stroke-width="0.7"/>
<line x1="385.6" y1="376" x2="385.6" y2="472" stroke="#e4e4e4" stroke-width="0.7"/>
<line x1="385.6" y1="472" x2="385.6" y2="474" stroke="#444" stroke-width="0.6"/>
<line x1="414.6" y1="376" x2="414.6" y2="472" stroke="#e4e4e4" stroke-width="0.7"/>
<line x1="414.6" y1="472" x2="414.6" y2="474" stroke="#444" stroke-width="0.6"/>
<line x1="442.9" y1="376" x2="442.9" y2="472" stroke="#e4e4e4" stroke-width="0.7"/>
<line x1="442.9" y1="472" x2="442.9" y2="474" stroke="#444" stroke-width="0.6"/>
<line x1="471.7" y1="376" x2="471.7" y2="472" stroke="#e4e4e4" stroke-width="0.7"/>
<line x1="471.7" y1="472" x2="471.7" y2="474" stroke="#444" stroke-width="0.6"/>
<text x="365.00" y="384.92" font-size="6.2" text-anchor="end" fill="#333" stroke="#333" stroke-width="0.22">0.3</text>
<line x1="366.2" y1="382.72" x2="368.0" y2="382.72" stroke="#444" stroke-width="0.6"/>
<text x="365.00" y="398.38" font-size="6.2" text-anchor="end" fill="#333" stroke="#333" stroke-width="0.22">0.2</text>
<line x1="366.2" y1="396.18" x2="368.0" y2="396.18" stroke="#444" stroke-width="0.6"/>
<text x="365.00" y="411.84" font-size="6.2" text-anchor="end" fill="#333" stroke="#333" stroke-width="0.22">0.1</text>
<line x1="366.2" y1="409.64" x2="368.0" y2="409.64" stroke="#444" stroke-width="0.6"/>
<text x="365.00" y="425.30" font-size="6.2" text-anchor="end" fill="#333" stroke="#333" stroke-width="0.22">0.0</text>
<line x1="366.2" y1="423.10" x2="368.0" y2="423.10" stroke="#444" stroke-width="0.6"/>
<text x="365.00" y="438.76" font-size="6.2" text-anchor="end" fill="#333" stroke="#333" stroke-width="0.22">-0.1</text>
<line x1="366.2" y1="436.56" x2="368.0" y2="436.56" stroke="#444" stroke-width="0.6"/>
<text x="365.00" y="452.22" font-size="6.2" text-anchor="end" fill="#333" stroke="#333" stroke-width="0.22">-0.2</text>
<line x1="366.2" y1="450.02" x2="368.0" y2="450.02" stroke="#444" stroke-width="0.6"/>
<text x="365.00" y="465.68" font-size="6.2" text-anchor="end" fill="#333" stroke="#333" stroke-width="0.22">-0.3</text>
<line x1="366.2" y1="463.48" x2="368.0" y2="463.48" stroke="#444" stroke-width="0.6"/>
<text x="389.20" y="480.20" font-size="7.3" text-anchor="end" fill="#222" transform="rotate(-45 389.20 480.20)" stroke="#222" stroke-width="0.22">Vehicle</text>
<text x="418.20" y="480.20" font-size="7.3" text-anchor="end" fill="#222" transform="rotate(-45 418.20 480.20)" stroke="#222" stroke-width="0.22">Ribociclib</text>
<text x="446.50" y="480.20" font-size="7.3" text-anchor="end" fill="#222" transform="rotate(-45 446.50 480.20)" stroke="#222" stroke-width="0.22">Paxalisib</text>
<text x="475.30" y="480.20" font-size="7.3" text-anchor="end" fill="#222" transform="rotate(-45 475.30 480.20)" stroke="#222" stroke-width="0.22">Combination</text>
<path d="M385.6 392.09999999999997 V389.4 H414.6 V392.09999999999997" fill="none" stroke="#2a2a2a" stroke-width="0.95"/>
<text x="400.30" y="390.10" font-size="9.0" text-anchor="middle" font-weight="bold" fill="#111">*</text>
<path d="M385.6 398.7 V396.0 H442.9 V398.7" fill="none" stroke="#2a2a2a" stroke-width="0.95"/>
<text x="413.80" y="396.70" font-size="9.0" text-anchor="middle" font-weight="bold" fill="#111">*</text>
<path d="M385.6 404.5 V401.8 H471.7 V404.5" fill="none" stroke="#2a2a2a" stroke-width="0.95"/>
<text x="428.60" y="402.50" font-size="9.0" text-anchor="middle" font-weight="bold" fill="#111">*</text>
<circle cx="385.6" cy="407.8" r="1.8" fill="#3a3a3a"/>
<circle cx="385.6" cy="443.6" r="1.6" fill="#3a3a3a"/>
<circle cx="387.2" cy="442.8" r="1.3" fill="#3a3a3a"/>
<path d="M385.6 407.2 C386.8 413 387.2 436 385.6 444.2 C384.0 436 384.4 413 385.6 407.2 Z" fill="#ffffff" stroke="#1a1a1a" stroke-width="0.95" stroke-linejoin="round"/>
<rect x="381.4" y="415.7" width="8.6" height="26.9" fill="#ffffff" stroke="#1a1a1a" stroke-width="0.95" stroke-linejoin="round"/>
<line x1="381.4" y1="426.5" x2="390" y2="426.5" stroke="#1a1a1a" stroke-width="0.8"/>
<line x1="385.6" y1="415.7" x2="385.6" y2="442.6" stroke="#1a1a1a" stroke-width="0.6"/>
<circle cx="414.6" cy="457.2" r="1.8" fill="#e3342c"/>
<circle cx="414.6" cy="467.0" r="1.4" fill="#e3342c"/>
<path d="M407.2 458.2 C409 457.4 420.2 457.4 422.0 458.2 C422.6 459.6 419 460.6 417.6 462 C416.6 463.2 418.4 465.6 417.8 466.8 C417 467.8 412.2 467.8 411.4 466.8 C410.8 465.6 412.6 463.2 411.6 462 C410.2 460.6 406.6 459.6 407.2 458.2 Z" fill="#ffffff" stroke="#1a1a1a" stroke-width="0.95" stroke-linejoin="round"/>
<circle cx="442.9" cy="439.6" r="1.8" fill="#f2cf2e"/>
<circle cx="442.0" cy="468.8" r="1.8" fill="#f2cf2e"/>
<path d="M442.9 439.0 C444.2 444 444.4 462 442.9 469.4 C441.4 462 441.6 444 442.9 439.0 Z" fill="#ffffff" stroke="#1a1a1a" stroke-width="0.95" stroke-linejoin="round"/>
<rect x="438.5" y="446.1" width="8.8" height="14.0" fill="#ffffff" stroke="#1a1a1a" stroke-width="0.95" stroke-linejoin="round"/>
<line x1="438.5" y1="452.0" x2="447.3" y2="452.0" stroke="#1a1a1a" stroke-width="0.8"/>
<line x1="442.9" y1="446.1" x2="442.9" y2="460.1" stroke="#1a1a1a" stroke-width="0.6"/>
<circle cx="471.7" cy="447.6" r="1.7" fill="#2c4fa3"/>
<circle cx="472.6" cy="469.0" r="1.7" fill="#2c4fa3"/>
<path d="M471.7 447.0 C474.4 450 475.0 462 473.6 466 C473.0 468 472.4 469 471.7 469.8 C471.0 469 470.4 468 469.8 466 C468.4 462 469.0 450 471.7 447.0 Z" fill="#ffffff" stroke="#1a1a1a" stroke-width="0.95" stroke-linejoin="round"/>
<rect x="467.7" y="450.2" width="8.0" height="13.1" fill="#ffffff" stroke="#1a1a1a" stroke-width="0.95" stroke-linejoin="round"/>
<line x1="467.7" y1="456.0" x2="475.7" y2="456.0" stroke="#1a1a1a" stroke-width="0.8"/>
<line x1="471.7" y1="450.2" x2="471.7" y2="463.3" stroke="#1a1a1a" stroke-width="0.6"/>
</g>
<defs>
<linearGradient id="gRank" x1="0" y1="0" x2="1" y2="0"><stop offset="0" stop-color="#f38484"/><stop offset="0.13" stop-color="#f8b6b6"/><stop offset="0.32" stop-color="#fde9e9"/><stop offset="0.47" stop-color="#ffffff"/><stop offset="0.62" stop-color="#f1f2fb"/><stop offset="0.80" stop-color="#cdd0ec"/><stop offset="0.92" stop-color="#a0a5d9"/><stop offset="1" stop-color="#6a70c1"/></linearGradient>
<linearGradient id="gLFC" x1="0" y1="0" x2="0" y2="1"><stop offset="0" stop-color="#8c3a44"/><stop offset="0.5" stop-color="#ffffff"/><stop offset="1" stop-color="#4f7fb0"/></linearGradient>
</defs>
<g id="panelE">
<text x="2.50" y="526.60" font-size="13.8" font-weight="bold" fill="#111">E</text>
<text x="113.50" y="529.40" font-size="9.7" text-anchor="middle" fill="#1a1a1a" stroke="#1a1a1a" stroke-width="0.22">PI3K AKT MTORC1 Signaling</text>
<rect x="36.3" y="536.3" width="154.5" height="70.4" fill="#ffffff" stroke="#9a9a9a" stroke-width="0.6"/>
<line x1="36.3" y1="591.8" x2="190.8" y2="591.8" stroke="#c9c9c9" stroke-width="0.6"/>
<text x="33.00" y="542.10" font-size="5.8" text-anchor="end" fill="#222" stroke="#222" stroke-width="0.14">0.4</text>
<line x1="34.4" y1="540.0" x2="36.3" y2="540.0" stroke="#555" stroke-width="0.5"/>
<text x="33.00" y="568.10" font-size="5.8" text-anchor="end" fill="#222" stroke="#222" stroke-width="0.14">0.2</text>
<line x1="34.4" y1="566.0" x2="36.3" y2="566.0" stroke="#555" stroke-width="0.5"/>
<text x="33.00" y="593.90" font-size="5.8" text-anchor="end" fill="#222" stroke="#222" stroke-width="0.14">0.0</text>
<line x1="34.4" y1="591.8" x2="36.3" y2="591.8" stroke="#555" stroke-width="0.5"/>
<text x="17.30" y="577.50" font-size="5.8" text-anchor="middle" fill="#222" transform="rotate(-90 17.30 577.50)" stroke="#222" stroke-width="0.14">EnrLFhPent 6FRre</text>
<polyline fill="none" stroke="#5cb531" stroke-width="1.7" stroke-linejoin="round" stroke-linecap="round" points="36.5,591.8 37.3,585 38.2,579 39.2,574.6 40.2,571.2 41.4,567 42.6,563.4 44,559.4 45.4,556 47,553.2 48.6,550.6 50.4,548 52.4,546.2 54.4,544.8 56.4,543.4 58.4,542.2 60.4,541 62.4,540.2 64.6,539.2 66.8,539.6 69,539.4 71.4,540.0 73.8,539.8 76.4,540.4 79,540.8 82,541.8 85,542.8 88,544.2 92,546.4 96,549.2 100,552.2 104,555.4 108,558.8 112,562.2 116,565.8 120,569.4 124,572.8 128,576.2 132,579.4 136,582.2 140,584.6 144,586.6 148,588.4 152,589.8 156,591.4 159,593.2 161,593.0 164,595.0 167,596.4 170,597.8 173,598.6 175,598.2 178,599.6 181,600.8 184,602.4 186.6,603.2 188.4,601.6 189.6,598.6 190.5,592.4"/>
<text x="50.20" y="585.00" font-size="4.3" fill="#333" letter-spacing="0.25" stroke="#333" stroke-width="0.14">1E6: 1.687</text>
<text x="50.20" y="591.90" font-size="4.3" fill="#333" letter-spacing="0.25" stroke="#333" stroke-width="0.14">INOO: 0.000</text>
<text x="50.20" y="599.50" font-size="4.3" fill="#333" letter-spacing="0.25" stroke="#333" stroke-width="0.14">FDR: 0.006</text>
<rect x="36.30" y="607.4" width="0.66" height="8.8" fill="#73a6d7"/><rect x="36.92" y="607.4" width="0.66" height="8.8" fill="#1a5da2"/><rect x="37.54" y="607.4" width="0.66" height="8.8" fill="#1c69b4"/><rect x="38.16" y="607.4" width="0.66" height="8.8" fill="#75a7d7"/><rect x="38.78" y="607.4" width="0.66" height="8.8" fill="#1d6cb8"/><rect x="39.40" y="607.4" width="0.66" height="8.8" fill="#8eb7de"/><rect x="40.02" y="607.4" width="0.66" height="8.8" fill="#93bae0"/><rect x="40.64" y="607.4" width="0.66" height="8.8" fill="#75a7d7"/><rect x="41.26" y="607.4" width="0.66" height="8.8" fill="#164e8c"/><rect x="41.88" y="607.4" width="0.66" height="8.8" fill="#16508f"/><rect x="42.50" y="607.4" width="0.66" height="8.8" fill="#85b1dc"/><rect x="43.12" y="607.4" width="0.66" height="8.8" fill="#82b0db"/><rect x="43.74" y="607.4" width="0.66" height="8.8" fill="#a1c3e4"/><rect x="44.36" y="607.4" width="0.66" height="8.8" fill="#b7d1ea"/><rect x="44.98" y="607.4" width="0.66" height="8.8" fill="#7aaad8"/><rect x="45.60" y="607.4" width="0.66" height="8.8" fill="#5f9ad1"/><rect x="46.22" y="607.4" width="0.66" height="8.8" fill="#5593ce"/><rect x="46.84" y="607.4" width="0.66" height="8.8" fill="#6aa0d4"/><rect x="47.46" y="607.4" width="0.66" height="8.8" fill="#164e8c"/><rect x="48.08" y="607.4" width="0.66" height="8.8" fill="#164e8c"/><rect x="48.70" y="607.4" width="0.66" height="8.8" fill="#5a96cf"/><rect x="49.32" y="607.4" width="0.66" height="8.8" fill="#8db7de"/><rect x="49.94" y="607.4" width="0.66" height="8.8" fill="#5794cf"/><rect x="50.56" y="607.4" width="0.66" height="8.8" fill="#1a60a7"/><rect x="51.18" y="607.4" width="0.66" height="8.8" fill="#164e8c"/><rect x="51.80" y="607.4" width="0.66" height="8.8" fill="#82afdb"/><rect x="52.42" y="607.4" width="0.66" height="8.8" fill="#1c65ae"/><rect x="53.04" y="607.4" width="0.66" height="8.8" fill="#164e8c"/><rect x="53.66" y="607.4" width="0.66" height="8.8" fill="#6ea3d5"/><rect x="54.28" y="607.4" width="0.66" height="8.8" fill="#508fcc"/><rect x="54.90" y="607.4" width="0.66" height="8.8" fill="#94bbe0"/><rect x="55.52" y="607.4" width="0.66" height="8.8" fill="#195ca0"/><rect x="56.14" y="607.4" width="0.66" height="8.8" fill="#87b3dc"/><rect x="56.76" y="607.4" width="0.66" height="8.8" fill="#bbd4eb"/><rect x="57.38" y="607.4" width="0.66" height="8.8" fill="#76a8d7"/><rect x="58.00" y="607.4" width="0.66" height="8.8" fill="#659dd3"/><rect x="58.62" y="607.4" width="0.66" height="8.8" fill="#7dacd9"/><rect x="59.24" y="607.4" width="0.66" height="8.8" fill="#93bbe0"/><rect x="59.86" y="607.4" width="0.66" height="8.8" fill="#abcae7"/><rect x="60.48" y="607.4" width="0.66" height="8.8" fill="#b3cee9"/><rect x="61.10" y="607.4" width="0.66" height="8.8" fill="#1b64ad"/><rect x="61.72" y="607.4" width="0.66" height="8.8" fill="#5492ce"/><rect x="62.34" y="607.4" width="0.66" height="8.8" fill="#85b2dc"/><rect x="62.96" y="607.4" width="0.66" height="8.8" fill="#1c66b0"/><rect x="63.58" y="607.4" width="0.66" height="8.8" fill="#69a0d4"/><rect x="64.20" y="607.4" width="0.66" height="8.8" fill="#96bce1"/><rect x="64.82" y="607.4" width="0.66" height="8.8" fill="#619bd1"/><rect x="65.44" y="607.4" width="0.66" height="8.8" fill="#93bae0"/><rect x="66.06" y="607.4" width="0.66" height="8.8" fill="#a7c7e6"/><rect x="66.68" y="607.4" width="0.66" height="8.8" fill="#9cc0e2"/><rect x="67.30" y="607.4" width="0.66" height="8.8" fill="#90b8df"/><rect x="67.92" y="607.4" width="0.66" height="8.8" fill="#1c67b1"/><rect x="68.54" y="607.4" width="0.66" height="8.8" fill="#1a61a8"/><rect x="69.16" y="607.4" width="0.66" height="8.8" fill="#8ab5dd"/><rect x="69.78" y="607.4" width="0.66" height="8.8" fill="#1a5da2"/><rect x="70.40" y="607.4" width="0.66" height="8.8" fill="#7eadda"/><rect x="71.02" y="607.4" width="0.66" height="8.8" fill="#1b64ac"/><rect x="71.64" y="607.4" width="0.66" height="8.8" fill="#5f9ad1"/><rect x="72.26" y="607.4" width="0.66" height="8.8" fill="#195a9e"/><rect x="72.88" y="607.4" width="0.66" height="8.8" fill="#6ca1d4"/><rect x="73.50" y="607.4" width="0.66" height="8.8" fill="#89b4dd"/><rect x="74.12" y="607.4" width="0.66" height="8.8" fill="#8bb5de"/><rect x="74.74" y="607.4" width="0.66" height="8.8" fill="#84b1db"/><rect x="75.36" y="607.4" width="0.66" height="8.8" fill="#73a6d7"/><rect x="75.98" y="607.4" width="0.66" height="8.8" fill="#89b4dd"/><rect x="76.60" y="607.4" width="0.66" height="8.8" fill="#bad3eb"/><rect x="77.22" y="607.4" width="0.66" height="8.8" fill="#72a6d6"/><rect x="77.84" y="607.4" width="0.66" height="8.8" fill="#6aa0d4"/><rect x="78.46" y="607.4" width="0.66" height="8.8" fill="#1d6cb8"/><rect x="79.08" y="607.4" width="0.66" height="8.8" fill="#a1c3e4"/><rect x="79.70" y="607.4" width="0.66" height="8.8" fill="#a0c3e4"/><rect x="80.32" y="607.4" width="0.66" height="8.8" fill="#b1cde8"/><rect x="80.94" y="607.4" width="0.66" height="8.8" fill="#94bbe0"/><rect x="81.56" y="607.4" width="0.66" height="8.8" fill="#78a9d8"/><rect x="82.18" y="607.4" width="0.66" height="8.8" fill="#19599c"/><rect x="82.80" y="607.4" width="0.66" height="8.8" fill="#195da2"/><rect x="83.42" y="607.4" width="0.66" height="8.8" fill="#96bce1"/><rect x="84.04" y="607.4" width="0.66" height="8.8" fill="#a3c5e4"/><rect x="84.66" y="607.4" width="0.66" height="8.8" fill="#5291cd"/><rect x="85.28" y="607.4" width="0.66" height="8.8" fill="#93bbe0"/><rect x="85.90" y="607.4" width="0.66" height="8.8" fill="#73a6d6"/><rect x="86.52" y="607.4" width="0.66" height="8.8" fill="#6aa0d4"/><rect x="87.14" y="607.4" width="0.66" height="8.8" fill="#9dc0e3"/><rect x="87.76" y="607.4" width="0.66" height="8.8" fill="#4e8fcc"/><rect x="88.38" y="607.4" width="0.66" height="8.8" fill="#1a60a7"/><rect x="89.00" y="607.4" width="0.66" height="8.8" fill="#164e8c"/><rect x="89.62" y="607.4" width="0.66" height="8.8" fill="#4f8fcc"/><rect x="90.24" y="607.4" width="0.66" height="8.8" fill="#164e8c"/><rect x="90.86" y="607.4" width="0.66" height="8.8" fill="#1c69b4"/><rect x="91.48" y="607.4" width="0.66" height="8.8" fill="#185697"/><rect x="92.10" y="607.4" width="0.66" height="8.8" fill="#69a0d4"/><rect x="92.72" y="607.4" width="0.66" height="8.8" fill="#7faeda"/><rect x="93.34" y="607.4" width="0.66" height="8.8" fill="#c5daee"/><rect x="93.96" y="607.4" width="0.66" height="8.8" fill="#679ed3"/><rect x="94.58" y="607.4" width="0.66" height="8.8" fill="#78a9d8"/><rect x="95.20" y="607.4" width="0.66" height="8.8" fill="#75a7d7"/><rect x="95.82" y="607.4" width="0.66" height="8.8" fill="#8ab4dd"/><rect x="96.44" y="607.4" width="0.66" height="8.8" fill="#c4d9ee"/><rect x="97.06" y="607.4" width="0.66" height="8.8" fill="#edf4fa"/><rect x="97.68" y="607.4" width="0.66" height="8.8" fill="#dce9f5"/><rect x="98.30" y="607.4" width="0.66" height="8.8" fill="#abc9e7"/><rect x="98.92" y="607.4" width="0.66" height="8.8" fill="#88b3dd"/><rect x="99.54" y="607.4" width="0.66" height="8.8" fill="#d6e5f3"/><rect x="100.16" y="607.4" width="0.66" height="8.8" fill="#d0e1f1"/><rect x="100.78" y="607.4" width="0.66" height="8.8" fill="#f5f8fc"/><rect x="101.40" y="607.4" width="0.66" height="8.8" fill="#94bbe0"/><rect x="102.02" y="607.4" width="0.66" height="8.8" fill="#95bce0"/><rect x="102.64" y="607.4" width="0.66" height="8.8" fill="#b0cde8"/><rect x="103.26" y="607.4" width="0.66" height="8.8" fill="#d9e7f4"/><rect x="103.88" y="607.4" width="0.66" height="8.8" fill="#86b2dc"/><rect x="104.50" y="607.4" width="0.66" height="8.8" fill="#74a7d7"/><rect x="105.12" y="607.4" width="0.66" height="8.8" fill="#95bbe0"/><rect x="105.74" y="607.4" width="0.66" height="8.8" fill="#d1e2f2"/><rect x="106.36" y="607.4" width="0.66" height="8.8" fill="#82b0db"/><rect x="106.98" y="607.4" width="0.66" height="8.8" fill="#69a0d4"/><rect x="107.60" y="607.4" width="0.66" height="8.8" fill="#bed6ec"/><rect x="108.22" y="607.4" width="0.66" height="8.8" fill="#c9dcef"/><rect x="108.84" y="607.4" width="0.66" height="8.8" fill="#e3edf7"/><rect x="109.46" y="607.4" width="0.66" height="8.8" fill="#b8d2eb"/><rect x="110.08" y="607.4" width="0.66" height="8.8" fill="#b9d2eb"/><rect x="110.70" y="607.4" width="0.66" height="8.8" fill="#7babd9"/><rect x="111.32" y="607.4" width="0.66" height="8.8" fill="#e7f0f8"/><rect x="111.94" y="607.4" width="0.66" height="8.8" fill="#b4cfe9"/><rect x="112.56" y="607.4" width="0.66" height="8.8" fill="#95bbe0"/><rect x="113.18" y="607.4" width="0.66" height="8.8" fill="#accae7"/><rect x="113.80" y="607.4" width="0.66" height="8.8" fill="#fefeff"/><rect x="114.42" y="607.4" width="0.66" height="8.8" fill="#f3f7fc"/><rect x="115.04" y="607.4" width="0.66" height="8.8" fill="#b4d0e9"/><rect x="115.66" y="607.4" width="0.66" height="8.8" fill="#f8fafd"/><rect x="116.28" y="607.4" width="0.66" height="8.8" fill="#c4daee"/><rect x="116.90" y="607.4" width="0.66" height="8.8" fill="#a1c4e4"/><rect x="117.52" y="607.4" width="0.66" height="8.8" fill="#6ca1d4"/><rect x="118.14" y="607.4" width="0.66" height="8.8" fill="#8cb6de"/><rect x="118.76" y="607.4" width="0.66" height="8.8" fill="#b5d0ea"/><rect x="119.38" y="607.4" width="0.66" height="8.8" fill="#f1f6fb"/><rect x="120.00" y="607.4" width="0.66" height="8.8" fill="#c5daee"/><rect x="120.62" y="607.4" width="0.66" height="8.8" fill="#dfebf6"/><rect x="121.24" y="607.4" width="0.66" height="8.8" fill="#adcbe7"/><rect x="121.86" y="607.4" width="0.66" height="8.8" fill="#94bbe0"/><rect x="122.48" y="607.4" width="0.66" height="8.8" fill="#a2c4e4"/><rect x="123.10" y="607.4" width="0.66" height="8.8" fill="#8fb8df"/><rect x="123.72" y="607.4" width="0.66" height="8.8" fill="#619bd1"/><rect x="124.34" y="607.4" width="0.66" height="8.8" fill="#bed6ec"/><rect x="124.96" y="607.4" width="0.66" height="8.8" fill="#92bae0"/><rect x="125.58" y="607.4" width="0.66" height="8.8" fill="#b0cde8"/><rect x="126.20" y="607.4" width="0.66" height="8.8" fill="#73a6d6"/><rect x="126.82" y="607.4" width="0.66" height="8.8" fill="#619bd1"/><rect x="127.44" y="607.4" width="0.66" height="8.8" fill="#8bb6de"/><rect x="128.06" y="607.4" width="0.66" height="8.8" fill="#75a7d7"/><rect x="128.68" y="607.4" width="0.66" height="8.8" fill="#7aaad9"/><rect x="129.30" y="607.4" width="0.66" height="8.8" fill="#a7c7e6"/><rect x="129.92" y="607.4" width="0.66" height="8.8" fill="#5995cf"/><rect x="130.54" y="607.4" width="0.66" height="8.8" fill="#76a8d8"/><rect x="131.16" y="607.4" width="0.66" height="8.8" fill="#98bee1"/><rect x="131.78" y="607.4" width="0.66" height="8.8" fill="#84b1db"/><rect x="132.40" y="607.4" width="0.66" height="8.8" fill="#d5e4f3"/><rect x="133.02" y="607.4" width="0.66" height="8.8" fill="#aecce8"/><rect x="133.64" y="607.4" width="0.66" height="8.8" fill="#ccdff0"/><rect x="134.26" y="607.4" width="0.66" height="8.8" fill="#b0cde8"/><rect x="134.88" y="607.4" width="0.66" height="8.8" fill="#9fc2e3"/><rect x="135.50" y="607.4" width="0.66" height="8.8" fill="#b0cde8"/><rect x="136.12" y="607.4" width="0.66" height="8.8" fill="#f2f7fb"/><rect x="136.74" y="607.4" width="0.66" height="8.8" fill="#c2d8ed"/><rect x="137.36" y="607.4" width="0.66" height="8.8" fill="#86b2dc"/><rect x="137.98" y="607.4" width="0.66" height="8.8" fill="#69a0d4"/><rect x="138.60" y="607.4" width="0.66" height="8.8" fill="#71a5d6"/><rect x="139.22" y="607.4" width="0.66" height="8.8" fill="#b8d2ea"/><rect x="139.84" y="607.4" width="0.66" height="8.8" fill="#c4d9ee"/><rect x="140.46" y="607.4" width="0.66" height="8.8" fill="#a9c9e6"/><rect x="141.08" y="607.4" width="0.66" height="8.8" fill="#82b0db"/><rect x="141.70" y="607.4" width="0.66" height="8.8" fill="#bcd4ec"/><rect x="142.32" y="607.4" width="0.66" height="8.8" fill="#78a9d8"/><rect x="142.94" y="607.4" width="0.66" height="8.8" fill="#abcae7"/><rect x="143.56" y="607.4" width="0.66" height="8.8" fill="#75a8d7"/><rect x="144.18" y="607.4" width="0.66" height="8.8" fill="#a0c3e4"/><rect x="144.80" y="607.4" width="0.66" height="8.8" fill="#a7c7e6"/><rect x="145.42" y="607.4" width="0.66" height="8.8" fill="#bcd4ec"/><rect x="146.04" y="607.4" width="0.66" height="8.8" fill="#7eadda"/><rect x="146.66" y="607.4" width="0.66" height="8.8" fill="#99bee1"/><rect x="147.28" y="607.4" width="0.66" height="8.8" fill="#a2c4e4"/><rect x="147.90" y="607.4" width="0.66" height="8.8" fill="#adcbe7"/><rect x="148.52" y="607.4" width="0.66" height="8.8" fill="#b2cee9"/><rect x="149.14" y="607.4" width="0.66" height="8.8" fill="#659dd2"/><rect x="149.76" y="607.4" width="0.66" height="8.8" fill="#b0cde8"/><rect x="150.38" y="607.4" width="0.66" height="8.8" fill="#e5eff8"/><rect x="151.00" y="607.4" width="0.66" height="8.8" fill="#8fb8df"/><rect x="151.62" y="607.4" width="0.66" height="8.8" fill="#b2cee9"/><rect x="152.24" y="607.4" width="0.66" height="8.8" fill="#d4e4f3"/><rect x="152.86" y="607.4" width="0.66" height="8.8" fill="#a3c5e5"/><rect x="153.48" y="607.4" width="0.66" height="8.8" fill="#a5c6e5"/><rect x="154.10" y="607.4" width="0.66" height="8.8" fill="#e4eef7"/><rect x="154.72" y="607.4" width="0.66" height="8.8" fill="#bed5ec"/><rect x="155.34" y="607.4" width="0.66" height="8.8" fill="#c6daee"/><rect x="155.96" y="607.4" width="0.66" height="8.8" fill="#e2edf7"/><rect x="156.58" y="607.4" width="0.66" height="8.8" fill="#f9fbfd"/><rect x="157.20" y="607.4" width="0.66" height="8.8" fill="#ffffff"/><rect x="157.82" y="607.4" width="0.66" height="8.8" fill="#dae7f4"/><rect x="158.44" y="607.4" width="0.66" height="8.8" fill="#dbe8f5"/><rect x="159.06" y="607.4" width="0.66" height="8.8" fill="#d6e5f3"/><rect x="159.68" y="607.4" width="0.66" height="8.8" fill="#e3edf7"/><rect x="160.30" y="607.4" width="0.66" height="8.8" fill="#b3cfe9"/><rect x="160.92" y="607.4" width="0.66" height="8.8" fill="#7faeda"/><rect x="161.54" y="607.4" width="0.66" height="8.8" fill="#7babd9"/><rect x="162.16" y="607.4" width="0.66" height="8.8" fill="#699fd4"/><rect x="162.78" y="607.4" width="0.66" height="8.8" fill="#679ed3"/><rect x="163.40" y="607.4" width="0.66" height="8.8" fill="#8eb7de"/><rect x="164.02" y="607.4" width="0.66" height="8.8" fill="#a8c7e6"/><rect x="164.64" y="607.4" width="0.66" height="8.8" fill="#8fb8df"/><rect x="165.26" y="607.4" width="0.66" height="8.8" fill="#b4cfe9"/><rect x="165.88" y="607.4" width="0.66" height="8.8" fill="#e4eef7"/><rect x="166.50" y="607.4" width="0.66" height="8.8" fill="#a2c4e4"/><rect x="167.12" y="607.4" width="0.66" height="8.8" fill="#99bee1"/><rect x="167.74" y="607.4" width="0.66" height="8.8" fill="#a6c7e5"/><rect x="168.36" y="607.4" width="0.66" height="8.8" fill="#f6fafd"/><rect x="168.98" y="607.4" width="0.66" height="8.8" fill="#a2c4e4"/><rect x="169.60" y="607.4" width="0.66" height="8.8" fill="#83b0db"/><rect x="170.22" y="607.4" width="0.66" height="8.8" fill="#8cb6de"/><rect x="170.84" y="607.4" width="0.66" height="8.8" fill="#94bbe0"/><rect x="171.46" y="607.4" width="0.66" height="8.8" fill="#e0ebf6"/><rect x="172.08" y="607.4" width="0.66" height="8.8" fill="#ffffff"/><rect x="172.70" y="607.4" width="0.66" height="8.8" fill="#d2e2f2"/><rect x="173.32" y="607.4" width="0.66" height="8.8" fill="#c9ddef"/><rect x="173.94" y="607.4" width="0.66" height="8.8" fill="#f1f6fb"/><rect x="174.56" y="607.4" width="0.66" height="8.8" fill="#88b3dd"/><rect x="175.18" y="607.4" width="0.66" height="8.8" fill="#7eadda"/><rect x="175.80" y="607.4" width="0.66" height="8.8" fill="#b6d1ea"/><rect x="176.42" y="607.4" width="0.66" height="8.8" fill="#a8c8e6"/><rect x="177.04" y="607.4" width="0.66" height="8.8" fill="#c3d9ee"/><rect x="177.66" y="607.4" width="0.66" height="8.8" fill="#b9d3eb"/><rect x="178.28" y="607.4" width="0.66" height="8.8" fill="#c1d7ed"/><rect x="178.90" y="607.4" width="0.66" height="8.8" fill="#8bb5dd"/><rect x="179.52" y="607.4" width="0.66" height="8.8" fill="#c8dcef"/><rect x="180.14" y="607.4" width="0.66" height="8.8" fill="#a1c3e4"/><rect x="180.76" y="607.4" width="0.66" height="8.8" fill="#e0ebf6"/><rect x="181.38" y="607.4" width="0.66" height="8.8" fill="#dde9f5"/><rect x="182.00" y="607.4" width="0.66" height="8.8" fill="#82b0db"/><rect x="182.62" y="607.4" width="0.66" height="8.8" fill="#6ea3d5"/><rect x="183.24" y="607.4" width="0.66" height="8.8" fill="#86b2dc"/><rect x="183.86" y="607.4" width="0.66" height="8.8" fill="#8fb8df"/><rect x="184.48" y="607.4" width="0.66" height="8.8" fill="#5492ce"/><rect x="185.10" y="607.4" width="0.66" height="8.8" fill="#8db7de"/><rect x="185.72" y="607.4" width="0.66" height="8.8" fill="#72a5d6"/><rect x="186.34" y="607.4" width="0.66" height="8.8" fill="#71a5d6"/><rect x="186.96" y="607.4" width="0.66" height="8.8" fill="#4d8ecc"/><rect x="187.58" y="607.4" width="0.66" height="8.8" fill="#5c97d0"/><rect x="188.20" y="607.4" width="0.66" height="8.8" fill="#6da2d5"/><rect x="188.82" y="607.4" width="0.66" height="8.8" fill="#8db6de"/><rect x="189.44" y="607.4" width="0.66" height="8.8" fill="#b4cfe9"/><rect x="190.06" y="607.4" width="0.66" height="8.8" fill="#f5f9fc"/><rect x="190.68" y="607.4" width="0.12" height="8.8" fill="#b6d1ea"/>
<rect x="36.3" y="607.4" width="154.5" height="8.8" fill="none" stroke="#4a6f93" stroke-width="0.4"/>
<rect x="36.3" y="616.2" width="154.5" height="8.4" fill="url(#gRank)"/>
<rect x="36.3" y="624.6" width="154.5" height="55.0" fill="#ffffff" stroke="#9a9a9a" stroke-width="0.6"/>
<line x1="112.7" y1="624.6" x2="112.7" y2="679.6" stroke="#d2d2d2" stroke-width="0.6"/>
<path d="M36.4 654.4 L36.4 647.4 C37 650 38.4 651.6 40.5 652.4 C44 653.4 52 653.9 70 654.1 L150 654.5 C170 654.6 182 655.2 186 656.4 C188.6 657.4 190 660 190.6 666 L190.6 654.4 Z" fill="#c3d3db" stroke="#b3c5cf" stroke-width="0.4"/>
<text x="33.00" y="635.10" font-size="5.8" text-anchor="end" fill="#222" stroke="#222" stroke-width="0.14">40.0</text>
<line x1="34.4" y1="633.0" x2="36.3" y2="633.0" stroke="#555" stroke-width="0.5"/>
<text x="33.00" y="645.80" font-size="5.8" text-anchor="end" fill="#222" stroke="#222" stroke-width="0.14">20.0</text>
<line x1="34.4" y1="643.7" x2="36.3" y2="643.7" stroke="#555" stroke-width="0.5"/>
<text x="33.00" y="656.70" font-size="5.8" text-anchor="end" fill="#222" stroke="#222" stroke-width="0.14">0.0</text>
<line x1="34.4" y1="654.6" x2="36.3" y2="654.6" stroke="#555" stroke-width="0.5"/>
<text x="33.00" y="667.90" font-size="5.8" text-anchor="end" fill="#222" stroke="#222" stroke-width="0.14">-20.0</text>
<line x1="34.4" y1="665.8" x2="36.3" y2="665.8" stroke="#555" stroke-width="0.5"/>
<text x="33.00" y="678.70" font-size="5.8" text-anchor="end" fill="#222" stroke="#222" stroke-width="0.14">-40.0</text>
<line x1="34.4" y1="676.6" x2="36.3" y2="676.6" stroke="#555" stroke-width="0.5"/>
<text x="17.30" y="650.10" font-size="6.1" text-anchor="middle" fill="#222" transform="rotate(-90 17.30 650.10)" stroke="#222" stroke-width="0.22">RDnNed OLVt PetrLF</text>
<text x="44.00" y="638.30" font-size="8.3" fill="#e3342c" font-style="italic" stroke="#e3342c" stroke-width="0.22">In vitro</text>
<text x="156.40" y="672.80" font-size="8.3" fill="#2f3fa8" font-style="italic" stroke="#2f3fa8" stroke-width="0.22">In vivo</text>
<text x="114.50" y="652.50" font-size="4.3" text-anchor="middle" fill="#333" letter-spacing="0.2" stroke="#333" stroke-width="0.14">Zerh VRrs Ot 6690</text>
<line x1="35.9" y1="679.6" x2="35.9" y2="681.2" stroke="#555" stroke-width="0.5"/>
<text x="35.90" y="685.90" font-size="5.8" text-anchor="middle" fill="#222" stroke="#222" stroke-width="0.14">0</text>
<line x1="58.8" y1="679.6" x2="58.8" y2="681.2" stroke="#555" stroke-width="0.5"/>
<text x="58.80" y="685.90" font-size="5.8" text-anchor="middle" fill="#222" stroke="#222" stroke-width="0.14">2,000</text>
<line x1="82.2" y1="679.6" x2="82.2" y2="681.2" stroke="#555" stroke-width="0.5"/>
<text x="82.20" y="685.90" font-size="5.8" text-anchor="middle" fill="#222" stroke="#222" stroke-width="0.14">4,000</text>
<line x1="105.2" y1="679.6" x2="105.2" y2="681.2" stroke="#555" stroke-width="0.5"/>
<text x="105.20" y="685.90" font-size="5.8" text-anchor="middle" fill="#222" stroke="#222" stroke-width="0.14">6,000</text>
<line x1="128.2" y1="679.6" x2="128.2" y2="681.2" stroke="#555" stroke-width="0.5"/>
<text x="128.20" y="685.90" font-size="5.8" text-anchor="middle" fill="#222" stroke="#222" stroke-width="0.14">8,000</text>
<line x1="151.4" y1="679.6" x2="151.4" y2="681.2" stroke="#555" stroke-width="0.5"/>
<text x="151.40" y="685.90" font-size="5.8" text-anchor="middle" fill="#222" stroke="#222" stroke-width="0.14">10,000</text>
<line x1="175.0" y1="679.6" x2="175.0" y2="681.2" stroke="#555" stroke-width="0.5"/>
<text x="175.00" y="685.90" font-size="5.8" text-anchor="middle" fill="#222" stroke="#222" stroke-width="0.14">12,000</text>
<text x="112.50" y="694.30" font-size="5.8" text-anchor="middle" fill="#222" stroke="#222" stroke-width="0.14">RDnN Ln2rdered DOtDVet</text>
</g>
<g id="panelF">
<text x="228.80" y="526.60" font-size="13.8" font-weight="bold" fill="#111">F</text>
<text x="275.60" y="546.61" font-size="8.1" text-anchor="end" fill="#222" stroke="#222" stroke-width="0.22">CCND1</text>
<text x="275.60" y="561.44" font-size="8.1" text-anchor="end" fill="#222" stroke="#222" stroke-width="0.22">CCND2</text>
<text x="275.60" y="576.26" font-size="8.1" text-anchor="end" fill="#222" stroke="#222" stroke-width="0.22">CDK6</text>
<text x="275.60" y="591.09" font-size="8.1" text-anchor="end" fill="#222" stroke="#222" stroke-width="0.22">ERBB2</text>
<text x="275.60" y="607.92" font-size="8.1" text-anchor="end" fill="#222" stroke="#222" stroke-width="0.22">EIF4EBP1</text>
<text x="275.60" y="622.76" font-size="8.1" text-anchor="end" fill="#222" stroke="#222" stroke-width="0.22">HGF</text>
<text x="275.60" y="637.59" font-size="8.1" text-anchor="end" fill="#222" stroke="#222" stroke-width="0.22">IGF1R</text>
<text x="275.60" y="652.43" font-size="8.1" text-anchor="end" fill="#222" stroke="#222" stroke-width="0.22">IRS1</text>
<text x="275.60" y="667.27" font-size="8.1" text-anchor="end" fill="#222" stroke="#222" stroke-width="0.22">IRS2</text>
<text x="275.60" y="682.11" font-size="8.1" text-anchor="end" fill="#222" stroke="#222" stroke-width="0.22">MET</text>
<text x="275.60" y="696.94" font-size="8.1" text-anchor="end" fill="#222" stroke="#222" stroke-width="0.22">PDGFRA</text>
<text x="275.60" y="711.78" font-size="8.1" text-anchor="end" fill="#222" stroke="#222" stroke-width="0.22">SGK1</text>
<rect x="276.7" y="536.3" width="7.0" height="59.30000000000007" fill="#c98f87"/>
<rect x="276.7" y="597.6" width="7.0" height="118.69999999999993" fill="#5b3a36"/>
<text x="233.90" y="568.50" font-size="7.0" text-anchor="middle" fill="#222" transform="rotate(-90 233.90 568.50)" stroke="#222" stroke-width="0.22">CDK4/6i</text>
<text x="233.90" y="657.50" font-size="7.5" text-anchor="middle" fill="#222" transform="rotate(-90 233.90 657.50)" stroke="#222" stroke-width="0.22">PI3K/mTORi</text>
<text x="281.40" y="717.80" font-size="5.5" text-anchor="end" fill="#222" transform="rotate(-90 281.40 717.80)" stroke="#222" stroke-width="0.14">Geneset</text>
<text x="315.20" y="522.30" font-size="8.0" text-anchor="middle" fill="#1a1a1a" stroke="#1a1a1a" stroke-width="0.22">HD-MB03</text>
<rect x="285.70" y="527.9" width="19.60" height="7.0" fill="#e8392b"/>
<rect x="305.30" y="527.9" width="19.60" height="7.0" fill="#f1c22b"/>
<rect x="324.90" y="527.9" width="19.60" height="7.0" fill="#2743b5"/>
<rect x="285.70" y="536.30" width="19.65" height="14.88" fill="#7d2230"/>
<text x="295.50" y="545.31" font-size="4.6" text-anchor="middle" fill="#2e1216" stroke="#333" stroke-width="0.12">0.002</text>
<rect x="305.30" y="536.30" width="19.65" height="14.88" fill="#b7c8df"/>
<rect x="324.90" y="536.30" width="19.65" height="14.88" fill="#cba3a3"/>
<rect x="285.70" y="551.12" width="19.65" height="14.88" fill="#f0d4d2"/>
<text x="295.50" y="560.14" font-size="4.6" text-anchor="middle" fill="#333333" stroke="#333" stroke-width="0.12">0.01</text>
<rect x="305.30" y="551.12" width="19.65" height="14.88" fill="#e9eef5"/>
<rect x="324.90" y="551.12" width="19.65" height="14.88" fill="#f4e2e0"/>
<text x="334.70" y="560.14" font-size="4.6" text-anchor="middle" fill="#333333" stroke="#333" stroke-width="0.12">0.011</text>
<rect x="285.70" y="565.95" width="19.65" height="14.88" fill="#edc9c7"/>
<text x="295.50" y="574.96" font-size="4.6" text-anchor="middle" fill="#333333" stroke="#333" stroke-width="0.12">0.02</text>
<rect x="305.30" y="565.95" width="19.65" height="14.88" fill="#fbf2f0"/>
<rect x="324.90" y="565.95" width="19.65" height="14.88" fill="#dab2b1"/>
<text x="334.70" y="574.96" font-size="4.6" text-anchor="middle" fill="#333333" stroke="#333" stroke-width="0.12">0.002</text>
<rect x="285.70" y="580.77" width="19.65" height="14.88" fill="#e0e8f1"/>
<rect x="305.30" y="580.77" width="19.65" height="14.88" fill="#dde6f0"/>
<rect x="324.90" y="580.77" width="19.65" height="14.88" fill="#abc0db"/>
<text x="334.70" y="589.79" font-size="4.6" text-anchor="middle" fill="#333333" stroke="#333" stroke-width="0.12">0.023</text>
<rect x="285.70" y="536.30" width="58.80" height="59.30" fill="none" stroke="#7d7d7d" stroke-width="0.85"/>
<rect x="285.70" y="597.60" width="19.65" height="14.89" fill="#eef2f8"/>
<rect x="305.30" y="597.60" width="19.65" height="14.89" fill="#e9eff6"/>
<rect x="324.90" y="597.60" width="19.65" height="14.89" fill="#dee7f1"/>
<rect x="285.70" y="612.44" width="19.65" height="14.89" fill="#f3dedc"/>
<rect x="305.30" y="612.44" width="19.65" height="14.89" fill="#d9b0af"/>
<rect x="324.90" y="612.44" width="19.65" height="14.89" fill="#f5e6e4"/>
<rect x="285.70" y="627.27" width="19.65" height="14.89" fill="#f7eceb"/>
<text x="295.50" y="636.29" font-size="4.6" text-anchor="middle" fill="#333333" stroke="#333" stroke-width="0.12">0.048</text>
<rect x="305.30" y="627.27" width="19.65" height="14.89" fill="#f1dbd9"/>
<rect x="324.90" y="627.27" width="19.65" height="14.89" fill="#eacccb"/>
<text x="334.70" y="636.29" font-size="4.6" text-anchor="middle" fill="#333333" stroke="#333" stroke-width="0.12">0.001</text>
<rect x="285.70" y="642.11" width="19.65" height="14.89" fill="#f4f6fa"/>
<rect x="305.30" y="642.11" width="19.65" height="14.89" fill="#f1dad8"/>
<rect x="324.90" y="642.11" width="19.65" height="14.89" fill="#dab2b1"/>
<text x="334.70" y="651.13" font-size="4.6" text-anchor="middle" fill="#333333" stroke="#333" stroke-width="0.12">0.028</text>
<rect x="285.70" y="656.95" width="19.65" height="14.89" fill="#d5e0ee"/>
<rect x="305.30" y="656.95" width="19.65" height="14.89" fill="#edd2d1"/>
<text x="315.10" y="665.97" font-size="4.6" text-anchor="middle" fill="#333333" stroke="#333" stroke-width="0.12">0.046</text>
<rect x="324.90" y="656.95" width="19.65" height="14.89" fill="#f4e3e1"/>
<text x="334.70" y="665.97" font-size="4.6" text-anchor="middle" fill="#333333" stroke="#333" stroke-width="0.12">0.042</text>
<rect x="285.70" y="671.79" width="19.65" height="14.89" fill="#ddb6b5"/>
<rect x="305.30" y="671.79" width="19.65" height="14.89" fill="#f1dcda"/>
<rect x="324.90" y="671.79" width="19.65" height="14.89" fill="#ddb7b6"/>
<rect x="285.70" y="686.62" width="19.65" height="14.89" fill="#efd5d4"/>
<rect x="305.30" y="686.62" width="19.65" height="14.89" fill="#fbfbfc"/>
<rect x="324.90" y="686.62" width="19.65" height="14.89" fill="#f1dcda"/>
<rect x="285.70" y="701.46" width="19.65" height="14.89" fill="#f5e5e3"/>
<rect x="305.30" y="701.46" width="19.65" height="14.89" fill="#e0bcbb"/>
<rect x="324.90" y="701.46" width="19.65" height="14.89" fill="#7d2230"/>
<text x="334.70" y="710.48" font-size="4.6" text-anchor="middle" fill="#2e1216" stroke="#333" stroke-width="0.12">0.017</text>
<rect x="285.70" y="597.60" width="58.80" height="118.70" fill="none" stroke="#7d7d7d" stroke-width="0.85"/>
<text x="383.50" y="522.30" font-size="8.0" text-anchor="middle" fill="#1a1a1a" stroke="#1a1a1a" stroke-width="0.22">MB002</text>
<rect x="353.80" y="527.9" width="19.77" height="7.0" fill="#e8392b"/>
<rect x="373.57" y="527.9" width="19.77" height="7.0" fill="#f1c22b"/>
<rect x="393.33" y="527.9" width="19.77" height="7.0" fill="#2743b5"/>
<rect x="353.80" y="536.30" width="19.82" height="14.88" fill="#f1dad8"/>
<rect x="373.57" y="536.30" width="19.82" height="14.88" fill="#f0f3f8"/>
<rect x="393.33" y="536.30" width="19.82" height="14.88" fill="#b57271"/>
<rect x="353.80" y="551.12" width="19.82" height="14.88" fill="#f1dbd9"/>
<rect x="373.57" y="551.12" width="19.82" height="14.88" fill="#f0f3f8"/>
<rect x="393.33" y="551.12" width="19.82" height="14.88" fill="#ffffff"/>
<rect x="353.80" y="565.95" width="19.82" height="14.88" fill="#dfb9b8"/>
<text x="363.68" y="574.96" font-size="4.6" text-anchor="middle" fill="#333333" stroke="#333" stroke-width="0.12">0.004</text>
<rect x="373.57" y="565.95" width="19.82" height="14.88" fill="#dde6f1"/>
<rect x="393.33" y="565.95" width="19.82" height="14.88" fill="#f1dcda"/>
<rect x="353.80" y="580.77" width="19.82" height="14.88" fill="#f1dad8"/>
<rect x="373.57" y="580.77" width="19.82" height="14.88" fill="#f0d8d6"/>
<rect x="393.33" y="580.77" width="19.82" height="14.88" fill="#f3e0de"/>
<text x="403.22" y="589.79" font-size="4.6" text-anchor="middle" fill="#333333" stroke="#333" stroke-width="0.12">0.028</text>
<rect x="353.80" y="536.30" width="59.30" height="59.30" fill="none" stroke="#7d7d7d" stroke-width="0.85"/>
<rect x="353.80" y="597.60" width="19.82" height="14.89" fill="#d5e0ee"/>
<rect x="373.57" y="597.60" width="19.82" height="14.89" fill="#c0d1e5"/>
<text x="383.45" y="606.62" font-size="4.6" text-anchor="middle" fill="#333333" stroke="#333" stroke-width="0.12">0.02</text>
<rect x="393.33" y="597.60" width="19.82" height="14.89" fill="#abc0db"/>
<text x="403.22" y="606.62" font-size="4.6" text-anchor="middle" fill="#333333" stroke="#333" stroke-width="0.12">0.002</text>
<rect x="353.80" y="612.44" width="19.82" height="14.89" fill="#7d2230"/>
<text x="363.68" y="621.46" font-size="4.6" text-anchor="middle" fill="#2e1216" stroke="#333" stroke-width="0.12">0.003</text>
<rect x="373.57" y="612.44" width="19.82" height="14.89" fill="#e3c0bf"/>
<rect x="393.33" y="612.44" width="19.82" height="14.89" fill="#80252f"/>
<text x="403.22" y="621.46" font-size="4.6" text-anchor="middle" fill="#2e1216" stroke="#333" stroke-width="0.12">0.002</text>
<rect x="353.80" y="627.27" width="19.82" height="14.89" fill="#fcf8f7"/>
<rect x="373.57" y="627.27" width="19.82" height="14.89" fill="#f3e0de"/>
<text x="383.45" y="636.29" font-size="4.6" text-anchor="middle" fill="#333333" stroke="#333" stroke-width="0.12">0.018</text>
<rect x="393.33" y="627.27" width="19.82" height="14.89" fill="#f1dad8"/>
<text x="403.22" y="636.29" font-size="4.6" text-anchor="middle" fill="#333333" stroke="#333" stroke-width="0.12">0.009</text>
<rect x="353.80" y="642.11" width="19.82" height="14.89" fill="#dfb9b8"/>
<text x="363.68" y="651.13" font-size="4.6" text-anchor="middle" fill="#333333" stroke="#333" stroke-width="0.12">0.001</text>
<rect x="373.57" y="642.11" width="19.82" height="14.89" fill="#f3e0de"/>
<rect x="393.33" y="642.11" width="19.82" height="14.89" fill="#e8c8c7"/>
<text x="403.22" y="651.13" font-size="4.6" text-anchor="middle" fill="#333333" stroke="#333" stroke-width="0.12">&lt;0.001</text>
<rect x="353.80" y="656.95" width="19.82" height="14.89" fill="#ffffff"/>
<rect x="373.57" y="656.95" width="19.82" height="14.89" fill="#e8c8c7"/>
<text x="383.45" y="665.97" font-size="4.6" text-anchor="middle" fill="#333333" stroke="#333" stroke-width="0.12">0.046</text>
<rect x="393.33" y="656.95" width="19.82" height="14.89" fill="#f1dad8"/>
<text x="403.22" y="665.97" font-size="4.6" text-anchor="middle" fill="#333333" stroke="#333" stroke-width="0.12">0.018</text>
<rect x="353.80" y="671.79" width="19.82" height="14.89" fill="#ad6a6b"/>
<rect x="373.57" y="671.79" width="19.82" height="14.89" fill="#eed5d3"/>
<rect x="393.33" y="671.79" width="19.82" height="14.89" fill="#deb9b8"/>
<rect x="353.80" y="686.62" width="19.82" height="14.89" fill="#d7abaa"/>
<rect x="373.57" y="686.62" width="19.82" height="14.89" fill="#c28d8c"/>
<rect x="393.33" y="686.62" width="19.82" height="14.89" fill="#c08988"/>
<rect x="353.80" y="701.46" width="19.82" height="14.89" fill="#e9eef5"/>
<rect x="373.57" y="701.46" width="19.82" height="14.89" fill="#dde6f1"/>
<rect x="393.33" y="701.46" width="19.82" height="14.89" fill="#e3eaf3"/>
<rect x="353.80" y="597.60" width="59.30" height="118.70" fill="none" stroke="#7d7d7d" stroke-width="0.85"/>
<text x="451.00" y="522.30" font-size="7.7" text-anchor="middle" fill="#1a1a1a" stroke="#1a1a1a" stroke-width="0.22">SJMBSHH-13-5634</text>
<rect x="421.40" y="527.9" width="19.67" height="7.0" fill="#e8392b"/>
<rect x="441.07" y="527.9" width="19.67" height="7.0" fill="#f1c22b"/>
<rect x="460.73" y="527.9" width="19.67" height="7.0" fill="#2743b5"/>
<rect x="421.40" y="536.30" width="19.72" height="14.88" fill="#bccde1"/>
<rect x="441.07" y="536.30" width="19.72" height="14.88" fill="#a3b9d6"/>
<text x="450.90" y="545.31" font-size="4.6" text-anchor="middle" fill="#333333" stroke="#333" stroke-width="0.12">0.029</text>
<rect x="460.73" y="536.30" width="19.72" height="14.88" fill="#bfd0e4"/>
<text x="470.57" y="545.31" font-size="4.6" text-anchor="middle" fill="#333333" stroke="#333" stroke-width="0.12">0.039</text>
<rect x="421.40" y="551.12" width="19.72" height="14.88" fill="#e3c0bf"/>
<text x="431.23" y="560.14" font-size="4.6" text-anchor="middle" fill="#333333" stroke="#333" stroke-width="0.12">0.036</text>
<rect x="441.07" y="551.12" width="19.72" height="14.88" fill="#e9eef5"/>
<rect x="460.73" y="551.12" width="19.72" height="14.88" fill="#e8c8c7"/>
<text x="470.57" y="560.14" font-size="4.6" text-anchor="middle" fill="#333333" stroke="#333" stroke-width="0.12">0.024</text>
<rect x="421.40" y="565.95" width="19.72" height="14.88" fill="#a96061"/>
<text x="431.23" y="574.96" font-size="4.6" text-anchor="middle" fill="#333333" stroke="#333" stroke-width="0.12">0.035</text>
<rect x="441.07" y="565.95" width="19.72" height="14.88" fill="#ddb6b5"/>
<rect x="460.73" y="565.95" width="19.72" height="14.88" fill="#903b42"/>
<text x="470.57" y="574.96" font-size="4.6" text-anchor="middle" fill="#2e1216" stroke="#333" stroke-width="0.12">0.029</text>
<rect x="421.40" y="580.77" width="19.72" height="14.88" fill="#c58f8e"/>
<text x="431.23" y="589.79" font-size="4.6" text-anchor="middle" fill="#333333" stroke="#333" stroke-width="0.12">0.027</text>
<rect x="441.07" y="580.77" width="19.72" height="14.88" fill="#dab1b0"/>
<rect x="460.73" y="580.77" width="19.72" height="14.88" fill="#b26f6f"/>
<text x="470.57" y="589.79" font-size="4.6" text-anchor="middle" fill="#333333" stroke="#333" stroke-width="0.12">0.008</text>
<rect x="421.40" y="536.30" width="59.00" height="59.30" fill="none" stroke="#7d7d7d" stroke-width="0.85"/>
<rect x="421.40" y="597.60" width="19.72" height="14.89" fill="#ffffff"/>
<rect x="441.07" y="597.60" width="19.72" height="14.89" fill="#d5e0ee"/>
<rect x="460.73" y="597.60" width="19.72" height="14.89" fill="#e9eef5"/>
<rect x="421.40" y="612.44" width="19.72" height="14.89" fill="#ddb6b5"/>
<rect x="441.07" y="612.44" width="19.72" height="14.89" fill="#e3c0bf"/>
<rect x="460.73" y="612.44" width="19.72" height="14.89" fill="#d6a9a8"/>
<rect x="421.40" y="627.27" width="19.72" height="14.89" fill="#edd2d1"/>
<rect x="441.07" y="627.27" width="19.72" height="14.89" fill="#f1dad8"/>
<rect x="460.73" y="627.27" width="19.72" height="14.89" fill="#f1dad8"/>
<rect x="421.40" y="642.11" width="19.72" height="14.89" fill="#ffffff"/>
<rect x="441.07" y="642.11" width="19.72" height="14.89" fill="#f5f0ef"/>
<rect x="460.73" y="642.11" width="19.72" height="14.89" fill="#faf5f4"/>
<rect x="421.40" y="656.95" width="19.72" height="14.89" fill="#f4f6fa"/>
<rect x="441.07" y="656.95" width="19.72" height="14.89" fill="#f7eceb"/>
<rect x="460.73" y="656.95" width="19.72" height="14.89" fill="#e9eef5"/>
<rect x="421.40" y="671.79" width="19.72" height="14.89" fill="#a86164"/>
<rect x="441.07" y="671.79" width="19.72" height="14.89" fill="#d8adac"/>
<rect x="460.73" y="671.79" width="19.72" height="14.89" fill="#80252f"/>
<text x="470.57" y="680.81" font-size="4.6" text-anchor="middle" fill="#2e1216" stroke="#333" stroke-width="0.12">0.002</text>
<rect x="421.40" y="686.62" width="19.72" height="14.89" fill="#a96466"/>
<rect x="441.07" y="686.62" width="19.72" height="14.89" fill="#c18b8a"/>
<text x="450.90" y="695.64" font-size="4.6" text-anchor="middle" fill="#333333" stroke="#333" stroke-width="0.12">0.046</text>
<rect x="460.73" y="686.62" width="19.72" height="14.89" fill="#882a35"/>
<text x="470.57" y="695.64" font-size="4.6" text-anchor="middle" fill="#2e1216" stroke="#333" stroke-width="0.12">0.014</text>
<rect x="421.40" y="701.46" width="19.72" height="14.89" fill="#a0b8d4"/>
<rect x="441.07" y="701.46" width="19.72" height="14.89" fill="#f0dcd9"/>
<rect x="460.73" y="701.46" width="19.72" height="14.89" fill="#b6c9df"/>
<text x="470.57" y="710.48" font-size="4.6" text-anchor="middle" fill="#333333" stroke="#333" stroke-width="0.12">0.033</text>
<rect x="421.40" y="597.60" width="59.00" height="118.70" fill="none" stroke="#7d7d7d" stroke-width="0.85"/>
<text x="482.20" y="533.20" font-size="5.8" fill="#222" stroke="#222" stroke-width="0.14">Treatment</text>
<text x="482.40" y="602.90" font-size="5.7" fill="#1c2333" stroke="#1c2333" stroke-width="0.14">Treatment</text>
<rect x="483.5" y="605.4" width="5.7" height="5.8" fill="#e8392b"/>
<text x="490.60" y="610.00" font-size="5.1" fill="#4d5577" stroke="#4d5577" stroke-width="0.14">Ribociclib</text>
<rect x="483.5" y="611.0" width="5.7" height="5.8" fill="#f1c22b"/>
<text x="490.60" y="615.60" font-size="5.1" fill="#4d5577" stroke="#4d5577" stroke-width="0.14">Paxalisib</text>
<rect x="483.5" y="616.7" width="5.7" height="5.8" fill="#2743b5"/>
<text x="490.60" y="621.30" font-size="5.1" fill="#4d5577" stroke="#4d5577" stroke-width="0.14">Combination</text>
<circle cx="508.4" cy="608.2" r="1.5" fill="#111"/>
<circle cx="503.2" cy="614.0" r="1.6" fill="#111"/>
<text x="482.40" y="629.20" font-size="6.4" fill="#222" stroke="#222" stroke-width="0.22">Log<tspan font-size="4" dy="1.4">2</tspan><tspan dy="-1.4">FC</tspan></text>
<rect x="483.5" y="631.6" width="5.7" height="18.0" fill="url(#gLFC)"/>
<text x="490.60" y="635.20" font-size="5.6" fill="#222" stroke="#222" stroke-width="0.14">2.0</text>
<text x="490.60" y="642.90" font-size="5.6" fill="#222" stroke="#222" stroke-width="0.14">0.0</text>
<text x="490.60" y="650.60" font-size="5.6" fill="#222" stroke="#222" stroke-width="0.14">−2.0</text>
</g>
</svg>
</body>
</html>
